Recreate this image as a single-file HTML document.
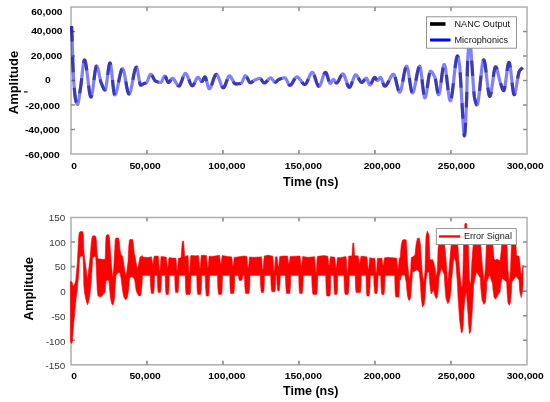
<!DOCTYPE html>
<html><head><meta charset="utf-8"><title>NANC Output vs Microphonics</title>
<style>html,body{margin:0;padding:0;background:#fff;width:550px;height:402px;overflow:hidden}svg{display:block}</style>
</head><body>
<svg width="550" height="402" viewBox="0 0 550 402">
<rect width="550" height="402" fill="#fff"/>
<rect x="71" y="7" width="456" height="147" fill="none" stroke="#aeaeae" stroke-width="1.5"/><path d="M147,154 V150 M147,7 V11 M223,154 V150 M223,7 V11 M299,154 V150 M299,7 V11 M375,154 V150 M375,7 V11 M451,154 V150 M451,7 V11 M71,31.50 H75 M527,31.50 H523 M71,56.00 H75 M527,56.00 H523 M71,80.50 H75 M527,80.50 H523 M71,105.00 H75 M527,105.00 H523 M71,129.50 H75 M527,129.50 H523" stroke="#8c8c8c" stroke-width="1.6" fill="none"/>
<path d="M71.60,26.00 L71.80,30.44 L72.00,34.87 L72.20,40.00 L72.24,41.45 M72.65,56.92 L72.80,62.00 L73.04,67.91 L73.25,72.38 M74.22,87.75 L74.25,88.09 L74.50,90.97 L74.75,93.57 L75.00,95.81 L75.25,97.65 L75.50,99.00 L75.75,100.07 L76.00,101.09 L76.25,102.02 L76.40,102.51 M79.75,93.19 L79.75,93.16 L80.00,91.35 L80.25,89.61 L80.50,88.00 L80.75,86.34 L81.00,84.45 L81.25,82.38 L81.50,80.18 L81.72,78.20 M83.52,63.13 L83.75,61.88 L84.00,60.87 L84.25,60.22 L84.50,60.00 L84.75,60.16 L85.00,60.62 L85.25,61.36 L85.50,62.36 L85.75,63.58 L86.00,65.00 L86.25,66.60 L86.50,68.35 L86.75,70.23 L86.77,70.41 M88.59,85.48 L88.75,86.77 L89.00,88.65 L89.25,90.40 L89.50,92.00 L89.75,93.42 L90.00,94.64 L90.25,95.64 L90.50,96.38 L90.75,96.84 L91.00,97.00 L91.24,96.83 L91.49,96.34 L91.73,95.56 L91.85,95.05 M93.96,80.15 L94.17,78.48 L94.41,76.53 L94.65,74.64 L94.90,72.87 L95.14,71.23 L95.38,69.76 L95.63,68.49 L95.87,67.44 L96.11,66.66 L96.36,66.17 L96.60,66.00 L96.64,66.02 M100.27,79.35 L100.31,79.54 L100.56,80.57 L100.81,81.50 L101.05,82.32 L101.30,83.00 L101.55,83.62 L101.79,84.25 L102.04,84.89 L102.29,85.53 L102.53,86.16 L102.78,86.77 L103.03,87.36 L103.27,87.90 L103.52,88.41 L103.77,88.86 L104.01,89.25 L104.26,89.56 L104.51,89.80 L104.75,89.95 L105.00,90.00 L105.25,89.80 L105.36,89.57 M107.70,74.88 L107.75,74.48 L108.00,72.50 L108.25,70.61 L108.50,68.83 L108.75,67.22 L109.00,65.81 L109.25,64.64 L109.50,63.76 L109.75,63.20 L110.00,63.00 L110.24,63.23 L110.48,63.90 L110.72,64.93 M112.50,80.00 L112.64,81.39 L112.88,83.74 L113.12,85.98 L113.36,88.09 L113.60,90.00 L113.84,91.67 L114.08,93.06 L114.32,94.10 L114.56,94.77 L114.60,94.80 M118.54,82.44 L118.77,81.21 L119.02,79.95 L119.27,78.70 L119.52,77.47 L119.77,76.28 L120.02,75.14 L120.26,74.06 L120.51,73.05 L120.76,72.12 L121.01,71.27 L121.26,70.53 L121.51,69.90 L121.75,69.39 L122.00,69.01 L122.11,68.91 M125.76,81.43 L126.00,82.81 L126.25,84.25 L126.50,85.65 L126.75,87.00 L127.00,88.29 L127.25,89.49 L127.50,90.58 L127.75,91.55 L128.00,92.39 L128.25,93.07 L128.50,93.57 L128.75,93.89 L129.00,94.00 L129.25,93.91 L129.46,93.69 M132.83,79.90 L132.95,79.26 L133.19,77.94 L133.44,76.63 L133.69,75.37 L133.93,74.15 L134.18,72.99 L134.43,71.90 L134.67,70.90 L134.92,69.99 L135.17,69.19 L135.41,68.50 L135.66,67.95 L135.91,67.54 L136.15,67.29 L136.40,67.20 L136.64,67.36 L136.64,67.37 M139.48,81.68 L139.51,81.80 L139.74,82.93 L139.98,83.87 L140.22,84.58 L140.46,85.04 L140.70,85.20 L140.93,85.18 L141.17,85.13 L141.40,85.04 L141.63,84.93 L141.87,84.81 L142.10,84.66 L142.33,84.51 L142.57,84.36 L142.80,84.20 L143.03,84.05 L143.27,83.92 L143.50,83.80 L143.75,83.69 L144.00,83.59 L144.25,83.50 L144.50,83.41 L144.75,83.32 L145.00,83.23 L145.25,83.14 L145.50,83.04 L145.75,82.93 L146.00,82.80 L146.08,82.75 M151.91,75.25 L152.14,75.60 L152.38,76.00 L152.62,76.44 L152.86,76.89 L153.10,77.36 L153.34,77.84 L153.58,78.31 L153.82,78.77 L154.06,79.21 L154.30,79.63 L154.54,80.01 L154.78,80.34 L155.02,80.62 L155.26,80.85 L155.50,81.00 L155.75,81.12 L156.00,81.23 L156.24,81.35 L156.49,81.46 L156.74,81.56 L156.99,81.66 L157.23,81.76 L157.48,81.85 L157.73,81.94 L157.98,82.02 L158.22,82.10 L158.47,82.17 L158.55,82.19 M165.06,76.19 L165.29,76.41 L165.54,76.77 L165.79,77.22 L166.03,77.76 L166.28,78.35 L166.53,78.98 L166.77,79.62 L167.02,80.25 L167.27,80.84 L167.51,81.38 L167.76,81.83 L168.01,82.19 L168.25,82.42 L168.50,82.50 L168.75,82.45 L169.00,82.32 L169.25,82.12 L169.50,81.86 L169.75,81.55 L170.00,81.20 L170.25,80.83 L170.50,80.45 L170.75,80.07 L171.00,79.70 L171.06,79.62 M177.55,85.13 L177.67,85.26 L177.92,85.52 L178.16,85.72 L178.41,85.87 L178.65,85.97 L178.90,86.00 L179.15,85.95 L179.40,85.79 L179.65,85.54 L179.90,85.20 L180.15,84.78 L180.40,84.30 L180.65,83.75 L180.90,83.16 L181.15,82.52 L181.40,81.84 L181.65,81.14 L181.90,80.43 L182.15,79.70 L182.40,78.97 L182.65,78.26 L182.90,77.56 L183.11,77.00 M188.86,79.50 L188.90,79.60 L189.15,80.26 L189.40,80.92 L189.65,81.56 L189.90,82.18 L190.15,82.78 L190.40,83.34 L190.65,83.86 L190.90,84.34 L191.15,84.75 L191.40,85.11 L191.65,85.40 L191.90,85.62 L192.15,85.75 L192.40,85.80 L192.65,85.75 L192.90,85.60 L193.15,85.37 L193.40,85.07 L193.65,84.70 L193.90,84.27 L194.15,83.79 L194.40,83.28 L194.65,82.73 L194.70,82.61 M200.94,80.81 L201.15,81.03 L201.40,81.23 L201.65,81.36 L201.90,81.40 L202.15,81.31 L202.40,81.07 L202.65,80.70 L202.90,80.23 L203.15,79.71 L203.40,79.15 L203.65,78.59 L203.90,78.07 L204.15,77.60 L204.40,77.23 L204.65,76.99 L204.90,76.90 L205.14,77.01 L205.39,77.31 L205.63,77.78 L205.88,78.40 L206.12,79.14 L206.37,79.99 L206.61,80.90 L206.69,81.20 M211.59,85.18 L211.80,84.60 L212.05,83.88 L212.30,83.13 L212.55,82.37 L212.80,81.60 L213.05,80.83 L213.30,80.07 L213.55,79.32 L213.80,78.60 L214.05,77.91 L214.30,77.25 L214.55,76.65 L214.80,76.10 L215.05,75.61 L215.30,75.20 L215.55,74.86 L215.80,74.61 L216.05,74.45 L216.30,74.40 L216.55,74.45 L216.71,74.54 M221.75,86.11 L221.80,86.22 L222.05,86.67 L222.30,87.06 L222.55,87.37 L222.80,87.60 L223.05,87.75 L223.30,87.80 L223.55,87.74 L223.80,87.58 L224.04,87.33 L224.29,86.98 L224.54,86.56 L224.79,86.07 L225.04,85.52 L225.28,84.92 L225.53,84.28 L225.78,83.61 L226.03,82.92 L226.28,82.21 L226.52,81.49 L226.77,80.78 L227.02,80.09 L227.27,79.42 L227.28,79.38 M233.33,81.51 L233.50,81.83 L233.75,82.26 L234.00,82.65 L234.25,83.00 L234.50,83.31 L234.75,83.56 L235.00,83.74 L235.25,83.86 L235.50,83.90 L235.75,83.90 L235.99,83.90 L236.24,83.89 L236.48,83.89 L236.73,83.88 L236.97,83.87 L237.22,83.86 L237.46,83.85 L237.71,83.83 L237.95,83.82 L238.20,83.80 L238.45,83.78 L238.69,83.76 L238.94,83.74 L239.18,83.71 L239.43,83.69 L239.67,83.66 L239.92,83.63 L240.16,83.60 L240.41,83.57 L240.65,83.54 L240.71,83.53 M246.70,76.87 L246.90,77.21 L247.15,77.67 L247.40,78.16 L247.65,78.68 L247.90,79.20 L248.15,79.72 L248.40,80.24 L248.65,80.73 L248.90,81.19 L249.15,81.61 L249.40,81.97 L249.65,82.27 L249.90,82.50 L250.15,82.65 L250.40,82.70 L250.64,82.68 L250.89,82.63 L251.13,82.54 L251.38,82.42 L251.62,82.29 L251.86,82.13 L252.11,81.96 L252.35,81.77 L252.59,81.58 L252.84,81.39 L253.08,81.20 L253.22,81.09 M260.77,78.94 L260.80,78.97 L261.05,79.25 L261.30,79.57 L261.55,79.91 L261.80,80.28 L262.05,80.65 L262.30,81.02 L262.55,81.39 L262.80,81.73 L263.05,82.05 L263.30,82.33 L263.55,82.57 L263.80,82.75 L264.05,82.86 L264.30,82.90 L264.55,82.88 L264.79,82.82 L265.04,82.72 L265.28,82.58 L265.53,82.42 L265.78,82.22 L266.02,82.01 L266.27,81.77 L266.52,81.52 L266.76,81.25 L267.01,80.97 L267.25,80.69 L267.50,80.40 L267.65,80.23 M274.58,82.03 L274.61,82.05 L274.86,82.16 L275.10,82.20 L275.34,82.17 L275.59,82.10 L275.83,81.98 L276.08,81.83 L276.32,81.65 L276.56,81.45 L276.81,81.22 L277.05,80.99 L277.29,80.75 L277.54,80.51 L277.78,80.27 L278.02,80.05 L278.27,79.85 L278.51,79.67 L278.76,79.51 L279.00,79.40 L279.25,79.30 L279.49,79.21 L279.74,79.12 L279.98,79.02 L280.23,78.93 L280.48,78.84 L280.72,78.76 L280.97,78.67 L281.21,78.59 L281.46,78.51 L281.70,78.44 L281.95,78.36 L282.00,78.35 M288.55,83.97 L288.65,84.14 L288.90,84.53 L289.15,84.85 L289.40,85.09 L289.65,85.25 L289.90,85.30 L290.15,85.27 L290.40,85.18 L290.65,85.03 L290.90,84.83 L291.15,84.59 L291.40,84.31 L291.65,83.99 L291.90,83.63 L292.15,83.25 L292.40,82.85 L292.65,82.43 L292.90,81.99 L293.15,81.55 L293.40,81.10 L293.65,80.65 L293.90,80.21 L294.15,79.77 L294.40,79.35 L294.65,78.95 L294.90,78.57 L294.97,78.47 M301.83,82.01 L301.84,82.03 L302.08,82.35 L302.33,82.66 L302.58,82.95 L302.82,83.23 L303.07,83.48 L303.32,83.71 L303.57,83.91 L303.81,84.08 L304.06,84.21 L304.31,84.32 L304.55,84.38 L304.80,84.40 L305.05,84.36 L305.30,84.25 L305.55,84.06 L305.80,83.82 L306.05,83.51 L306.30,83.15 L306.55,82.74 L306.80,82.30 L307.05,81.81 L307.30,81.29 L307.55,80.74 L307.80,80.18 L308.05,79.59 L308.27,79.06 M314.17,75.13 L314.26,75.34 L314.50,76.00 L314.74,76.71 L314.99,77.44 L315.23,78.20 L315.48,78.96 L315.72,79.74 L315.97,80.50 L316.21,81.26 L316.46,81.99 L316.70,82.70 L316.94,83.36 L317.19,83.98 L317.43,84.55 L317.68,85.05 L317.92,85.48 L318.17,85.82 L318.41,86.08 L318.66,86.24 L318.90,86.30 L319.14,86.24 L319.16,86.24 M323.96,74.32 L324.03,74.15 L324.28,73.65 L324.52,73.22 L324.77,72.88 L325.01,72.62 L325.26,72.46 L325.50,72.40 L325.75,72.48 L325.99,72.71 L326.24,73.07 L326.48,73.54 L326.73,74.12 L326.97,74.78 L327.21,75.50 L327.46,76.27 L327.70,77.08 L327.95,77.90 L328.19,78.72 L328.44,79.53 L328.69,80.30 L328.93,81.02 L329.08,81.41 M335.35,81.90 L335.40,81.99 L335.65,82.35 L335.90,82.64 L336.15,82.83 L336.40,82.90 L336.65,82.86 L336.90,82.75 L337.15,82.57 L337.40,82.33 L337.65,82.03 L337.90,81.68 L338.15,81.29 L338.40,80.87 L338.65,80.41 L338.90,79.93 L339.15,79.43 L339.40,78.92 L339.65,78.40 L339.90,77.88 L340.15,77.37 L340.40,76.87 L340.65,76.39 L340.90,75.93 L341.15,75.51 L341.40,75.12 L341.49,74.99 M346.89,83.02 L347.08,83.59 L347.33,84.27 L347.58,84.91 L347.82,85.49 L348.07,86.00 L348.32,86.45 L348.56,86.81 L348.81,87.07 L349.05,87.24 L349.30,87.30 L349.55,87.25 L349.80,87.09 L350.05,86.84 L350.30,86.51 L350.55,86.10 L350.80,85.62 L351.05,85.09 L351.30,84.50 L351.55,83.87 L351.80,83.21 L352.05,82.52 L352.30,81.81 L352.43,81.43 M358.28,77.76 L358.50,78.18 L358.75,78.65 L359.00,79.12 L359.24,79.58 L359.49,80.03 L359.73,80.46 L359.98,80.86 L360.23,81.23 L360.47,81.56 L360.72,81.84 L360.96,82.08 L361.21,82.25 L361.45,82.36 L361.70,82.40 L361.95,82.37 L362.19,82.27 L362.44,82.12 L362.69,81.92 L362.94,81.68 L363.18,81.41 L363.43,81.11 L363.68,80.79 L363.93,80.47 L364.17,80.13 L364.42,79.81 L364.67,79.49 L364.82,79.31 M370.84,84.05 L371.05,83.73 L371.30,83.28 L371.55,82.79 L371.80,82.26 L372.05,81.71 L372.30,81.15 L372.55,80.59 L372.80,80.04 L373.05,79.51 L373.30,79.02 L373.55,78.57 L373.80,78.18 L374.05,77.86 L374.30,77.61 L374.55,77.45 L374.80,77.40 L375.05,77.49 L375.30,77.72 L375.55,78.07 L375.80,78.49 L376.05,78.95 L376.30,79.41 L376.55,79.83 L376.80,80.18 L376.81,80.19 M382.90,82.62 L383.09,83.18 L383.33,83.84 L383.58,84.46 L383.82,85.00 L384.07,85.46 L384.31,85.80 L384.56,86.02 L384.80,86.10 L385.05,86.07 L385.30,85.99 L385.55,85.85 L385.79,85.67 L386.04,85.45 L386.29,85.18 L386.54,84.87 L386.79,84.53 L387.04,84.16 L387.29,83.76 L387.53,83.34 L387.78,82.89 L388.03,82.43 L388.28,81.95 L388.53,81.46 L388.78,80.96 L388.95,80.61 M395.00,76.96 L395.24,77.74 L395.48,78.65 L395.73,79.62 L395.98,80.64 L396.23,81.69 L396.48,82.76 L396.72,83.84 L396.97,84.91 L397.22,85.96 L397.47,86.98 L397.72,87.95 L397.96,88.86 L398.21,89.69 L398.46,90.43 L398.57,90.70 M402.73,81.63 L402.90,80.65 L403.15,79.25 L403.40,77.85 L403.64,76.47 L403.89,75.12 L404.14,73.81 L404.38,72.56 L404.63,71.37 L404.88,70.28 L405.12,69.28 L405.37,68.40 L405.61,67.65 L405.72,67.38 M409.32,77.98 L409.55,79.55 L409.80,81.21 L410.04,82.86 L410.29,84.45 L410.53,85.98 L410.78,87.41 L411.02,88.73 L411.27,89.91 L411.52,90.92 L411.76,91.75 L412.01,92.37 L412.03,92.41 M415.90,80.65 L415.98,80.24 L416.22,78.86 L416.47,77.49 L416.72,76.13 L416.97,74.81 L417.22,73.53 L417.47,72.32 L417.71,71.17 L417.96,70.12 L418.21,69.16 L418.46,68.31 L418.71,67.58 L418.96,67.00 L419.13,66.68 M422.01,79.38 L422.18,80.92 L422.42,83.18 L422.67,85.42 L422.92,87.60 L423.17,89.68 L423.41,91.62 L423.66,93.36 L423.84,94.44 M427.22,87.93 L427.33,87.15 L427.58,85.42 L427.82,83.68 L428.07,81.95 L428.31,80.27 L428.55,78.64 L428.80,77.11 L429.04,75.70 L429.28,74.44 L429.53,73.34 L429.57,73.18 M435.32,78.79 L435.39,79.06 L435.64,80.25 L435.89,81.62 L436.13,83.12 L436.38,84.70 L436.63,86.31 L436.87,87.92 L437.12,89.46 L437.37,90.89 L437.61,92.17 L437.86,93.25 L437.90,93.39 M441.04,82.59 L441.28,80.64 L441.52,78.66 L441.77,76.70 L442.01,74.79 L442.25,72.95 L442.50,71.21 L442.74,69.61 L442.98,68.17 L443.08,67.65 M446.35,74.84 L446.40,75.23 L446.64,77.28 L446.88,79.40 L447.13,81.56 L447.37,83.74 L447.62,85.90 L447.86,88.02 L448.09,89.95 M451.35,98.19 L451.54,97.26 L451.79,95.84 L452.04,94.23 L452.29,92.45 L452.53,90.53 L452.78,88.49 L453.03,86.35 L453.28,84.14 L453.38,83.25 M455.04,68.11 L455.27,66.27 L455.51,64.35 L455.76,62.57 L456.01,60.96 L456.26,59.54 L456.51,58.32 L456.76,57.34 L457.00,56.61 L457.25,56.16 L457.50,56.00 L457.74,56.18 L457.98,56.68 L458.21,57.44 M460.15,72.37 L460.36,75.59 L460.60,79.62 L460.84,83.85 L461.06,87.77 M462.00,103.15 L462.04,103.64 L462.27,107.67 L462.51,111.92 L462.75,116.26 L462.87,118.55 M463.96,133.89 L464.16,135.25 L464.40,135.80 L464.64,135.15 L464.89,133.31 L465.13,130.43 L465.38,126.66 L465.59,122.77 M466.29,107.33 L466.36,105.86 L466.60,100.00 L466.84,91.87 M467.19,76.39 L467.35,69.37 L467.60,62.00 L467.66,60.92 M468.66,45.55 L468.82,43.61 L469.07,41.25 L469.31,39.49 L469.56,38.38 L469.80,38.00 L470.03,38.64 L470.25,40.39 L470.48,43.00 L470.63,45.21 M471.64,60.57 L471.85,63.27 L472.10,66.81 L472.35,70.53 L472.60,74.34 L472.70,75.93 M473.80,91.27 L473.85,91.85 L474.10,94.44 L474.35,96.52 L474.60,98.00 L474.84,99.10 L475.08,100.15 L475.32,101.15 L475.56,102.07 L475.80,102.89 L476.04,103.60 L476.28,104.19 L476.52,104.63 L476.76,104.90 L476.91,104.96 M479.49,90.87 L479.73,88.61 L479.98,86.15 L480.23,83.65 L480.47,81.15 L480.72,78.65 L480.97,76.19 L481.02,75.68 M483.12,60.80 L483.20,60.51 L483.45,59.98 L483.70,59.80 L483.94,59.97 L484.19,60.47 L484.43,61.25 L484.68,62.31 L484.92,63.61 L485.16,65.11 L485.41,66.80 L485.65,68.64 L485.90,70.61 L486.12,72.50 M487.86,87.61 L488.09,89.40 L488.34,91.09 L488.58,92.59 L488.82,93.89 L489.07,94.95 L489.31,95.73 L489.56,96.23 L489.80,96.40 L490.04,96.25 L490.28,95.82 L490.53,95.13 L490.77,94.21 L491.01,93.08 L491.24,91.81 M493.33,76.88 L493.43,76.17 L493.67,74.47 L493.91,72.89 L494.15,71.42 L494.39,70.12 L494.63,68.99 L494.88,68.07 L495.12,67.38 L495.36,66.95 L495.60,66.80 L495.85,66.89 L496.09,67.16 L496.34,67.58 L496.59,68.14 L496.84,68.83 L497.06,69.54 M500.58,83.31 L500.79,83.93 L501.03,84.70 L501.27,85.47 L501.51,86.24 L501.76,87.00 L502.00,87.72 L502.24,88.40 L502.49,89.01 L502.73,89.54 L502.97,89.98 L503.21,90.32 L503.46,90.53 L503.70,90.60 L503.94,90.43 L504.18,89.94 L504.42,89.17 L504.66,88.14 L504.90,86.89 L505.08,85.87 M507.07,70.90 L507.07,70.87 L507.31,69.15 L507.55,67.55 L507.80,66.11 L508.04,64.86 L508.28,63.83 L508.52,63.06 L508.76,62.57 L509.00,62.40 L509.25,62.61 L509.50,63.22 L509.74,64.19 L509.99,65.47 L510.24,67.02 L510.31,67.50 M512.04,82.61 L512.22,84.21 L512.47,86.33 L512.71,88.30 L512.96,90.08 L513.21,91.63 L513.46,92.91 L513.70,93.88 L513.95,94.49 L514.20,94.70 L514.45,94.56 L514.70,94.17 L514.94,93.54 L515.06,93.16 M517.65,78.58 L517.67,78.46 L517.91,77.00 L518.16,75.63 L518.41,74.39 L518.66,73.29 L518.90,72.35 L519.15,71.62 L519.40,71.10 L519.65,70.72 L519.90,70.37 L520.15,70.06 L520.40,69.77 L520.65,69.51 L520.90,69.27 L521.15,69.05 L521.40,68.83 L521.65,68.62 L521.90,68.41 L522.15,68.20 L522.40,67.98 L522.58,67.82" fill="none" stroke="#000" stroke-opacity="0.55" stroke-width="3.2" stroke-linejoin="round"/>
<path d="M71.60,26.00 L71.80,30.44 L72.00,34.87 L72.20,40.00 L72.40,47.08 L72.60,55.25 L72.80,62.00 L73.04,67.91 L73.28,73.14 L73.52,77.71 L73.76,81.66 L74.00,85.00 L74.25,88.09 L74.50,90.97 L74.75,93.57 L75.00,95.81 L75.25,97.65 L75.50,99.00 L75.75,100.07 L76.00,101.09 L76.25,102.02 L76.50,102.84 L76.75,103.53 L77.00,104.05 L77.25,104.38 L77.50,104.50 L77.75,104.29 L78.00,103.70 L78.25,102.78 L78.50,101.58 L78.75,100.15 L79.00,98.55 L79.25,96.81 L79.50,95.00 L79.75,93.16 L80.00,91.35 L80.25,89.61 L80.50,88.00 L80.75,86.34 L81.00,84.45 L81.25,82.38 L81.50,80.18 L81.75,77.89 L82.00,75.55 L82.25,73.22 L82.50,70.94 L82.75,68.75 L83.00,66.71 L83.25,64.85 L83.50,63.23 L83.75,61.88 L84.00,60.87 L84.25,60.22 L84.50,60.00 L84.75,60.16 L85.00,60.62 L85.25,61.36 L85.50,62.36 L85.75,63.58 L86.00,65.00 L86.25,66.60 L86.50,68.35 L86.75,70.23 L87.00,72.21 L87.25,74.26 L87.50,76.37 L87.75,78.50 L88.00,80.63 L88.25,82.74 L88.50,84.79 L88.75,86.77 L89.00,88.65 L89.25,90.40 L89.50,92.00 L89.75,93.42 L90.00,94.64 L90.25,95.64 L90.50,96.38 L90.75,96.84 L91.00,97.00 L91.24,96.83 L91.49,96.34 L91.73,95.56 L91.97,94.51 L92.22,93.24 L92.46,91.77 L92.70,90.13 L92.95,88.36 L93.19,86.47 L93.43,84.52 L93.68,82.51 L93.92,80.49 L94.17,78.48 L94.41,76.53 L94.65,74.64 L94.90,72.87 L95.14,71.23 L95.38,69.76 L95.63,68.49 L95.87,67.44 L96.11,66.66 L96.36,66.17 L96.60,66.00 L96.85,66.11 L97.09,66.41 L97.34,66.90 L97.59,67.54 L97.84,68.32 L98.08,69.23 L98.33,70.23 L98.58,71.32 L98.83,72.47 L99.07,73.66 L99.32,74.87 L99.57,76.08 L99.82,77.28 L100.06,78.44 L100.31,79.54 L100.56,80.57 L100.81,81.50 L101.05,82.32 L101.30,83.00 L101.55,83.62 L101.79,84.25 L102.04,84.89 L102.29,85.53 L102.53,86.16 L102.78,86.77 L103.03,87.36 L103.27,87.90 L103.52,88.41 L103.77,88.86 L104.01,89.25 L104.26,89.56 L104.51,89.80 L104.75,89.95 L105.00,90.00 L105.25,89.80 L105.50,89.24 L105.75,88.36 L106.00,87.19 L106.25,85.78 L106.50,84.17 L106.75,82.39 L107.00,80.50 L107.25,78.52 L107.50,76.50 L107.75,74.48 L108.00,72.50 L108.25,70.61 L108.50,68.83 L108.75,67.22 L109.00,65.81 L109.25,64.64 L109.50,63.76 L109.75,63.20 L110.00,63.00 L110.24,63.23 L110.48,63.90 L110.72,64.94 L110.96,66.33 L111.20,68.00 L111.44,69.91 L111.68,72.02 L111.92,74.26 L112.16,76.61 L112.40,79.00 L112.64,81.39 L112.88,83.74 L113.12,85.98 L113.36,88.09 L113.60,90.00 L113.84,91.67 L114.08,93.06 L114.32,94.10 L114.56,94.77 L114.80,95.00 L115.05,94.92 L115.30,94.69 L115.55,94.31 L115.79,93.80 L116.04,93.17 L116.29,92.43 L116.54,91.58 L116.79,90.65 L117.04,89.64 L117.28,88.56 L117.53,87.42 L117.78,86.23 L118.03,85.00 L118.28,83.75 L118.53,82.49 L118.77,81.21 L119.02,79.95 L119.27,78.70 L119.52,77.47 L119.77,76.28 L120.02,75.14 L120.26,74.06 L120.51,73.05 L120.76,72.12 L121.01,71.27 L121.26,70.53 L121.51,69.90 L121.75,69.39 L122.00,69.01 L122.25,68.78 L122.50,68.70 L122.75,68.81 L123.00,69.13 L123.25,69.63 L123.50,70.31 L123.75,71.15 L124.00,72.12 L124.25,73.21 L124.50,74.41 L124.75,75.70 L125.00,77.05 L125.25,78.45 L125.50,79.89 L125.75,81.35 L126.00,82.81 L126.25,84.25 L126.50,85.65 L126.75,87.00 L127.00,88.29 L127.25,89.49 L127.50,90.58 L127.75,91.55 L128.00,92.39 L128.25,93.07 L128.50,93.57 L128.75,93.89 L129.00,94.00 L129.25,93.91 L129.49,93.66 L129.74,93.25 L129.99,92.70 L130.23,92.01 L130.48,91.21 L130.73,90.30 L130.97,89.30 L131.22,88.21 L131.47,87.05 L131.71,85.83 L131.96,84.57 L132.21,83.26 L132.45,81.94 L132.70,80.60 L132.95,79.26 L133.19,77.94 L133.44,76.63 L133.69,75.37 L133.93,74.15 L134.18,72.99 L134.43,71.90 L134.67,70.90 L134.92,69.99 L135.17,69.19 L135.41,68.50 L135.66,67.95 L135.91,67.54 L136.15,67.29 L136.40,67.20 L136.64,67.36 L136.88,67.82 L137.12,68.53 L137.36,69.47 L137.59,70.60 L137.83,71.87 L138.07,73.25 L138.31,74.71 L138.55,76.20 L138.79,77.69 L139.03,79.15 L139.27,80.53 L139.51,81.80 L139.74,82.93 L139.98,83.87 L140.22,84.58 L140.46,85.04 L140.70,85.20 L140.93,85.18 L141.17,85.13 L141.40,85.04 L141.63,84.93 L141.87,84.81 L142.10,84.66 L142.33,84.51 L142.57,84.36 L142.80,84.20 L143.03,84.05 L143.27,83.92 L143.50,83.80 L143.75,83.69 L144.00,83.59 L144.25,83.50 L144.50,83.41 L144.75,83.32 L145.00,83.23 L145.25,83.14 L145.50,83.04 L145.75,82.93 L146.00,82.80 L146.25,82.66 L146.50,82.50 L146.75,82.27 L146.99,81.92 L147.24,81.48 L147.49,80.96 L147.74,80.37 L147.98,79.73 L148.23,79.06 L148.48,78.38 L148.72,77.70 L148.97,77.04 L149.22,76.41 L149.46,75.84 L149.71,75.33 L149.96,74.90 L150.21,74.58 L150.45,74.37 L150.70,74.30 L150.94,74.34 L151.18,74.47 L151.42,74.66 L151.66,74.92 L151.90,75.24 L152.14,75.60 L152.38,76.00 L152.62,76.44 L152.86,76.89 L153.10,77.36 L153.34,77.84 L153.58,78.31 L153.82,78.77 L154.06,79.21 L154.30,79.63 L154.54,80.01 L154.78,80.34 L155.02,80.62 L155.26,80.85 L155.50,81.00 L155.75,81.12 L156.00,81.23 L156.24,81.35 L156.49,81.46 L156.74,81.56 L156.99,81.66 L157.23,81.76 L157.48,81.85 L157.73,81.94 L157.98,82.02 L158.22,82.10 L158.47,82.17 L158.72,82.24 L158.97,82.30 L159.21,82.35 L159.46,82.39 L159.71,82.43 L159.96,82.46 L160.20,82.48 L160.45,82.50 L160.70,82.50 L160.94,82.44 L161.18,82.26 L161.42,81.97 L161.66,81.60 L161.91,81.16 L162.15,80.67 L162.39,80.14 L162.63,79.58 L162.87,79.02 L163.11,78.46 L163.35,77.93 L163.59,77.44 L163.84,77.00 L164.08,76.63 L164.32,76.34 L164.56,76.16 L164.80,76.10 L165.05,76.18 L165.29,76.41 L165.54,76.77 L165.79,77.22 L166.03,77.76 L166.28,78.35 L166.53,78.98 L166.77,79.62 L167.02,80.25 L167.27,80.84 L167.51,81.38 L167.76,81.83 L168.01,82.19 L168.25,82.42 L168.50,82.50 L168.75,82.45 L169.00,82.32 L169.25,82.12 L169.50,81.86 L169.75,81.55 L170.00,81.20 L170.25,80.83 L170.50,80.45 L170.75,80.07 L171.00,79.70 L171.25,79.35 L171.50,79.04 L171.75,78.78 L172.00,78.58 L172.25,78.45 L172.50,78.40 L172.75,78.43 L172.99,78.53 L173.24,78.68 L173.48,78.88 L173.73,79.14 L173.98,79.43 L174.22,79.76 L174.47,80.12 L174.72,80.50 L174.96,80.91 L175.21,81.33 L175.45,81.76 L175.70,82.20 L175.95,82.64 L176.19,83.07 L176.44,83.49 L176.68,83.90 L176.93,84.28 L177.18,84.64 L177.42,84.97 L177.67,85.26 L177.92,85.52 L178.16,85.72 L178.41,85.87 L178.65,85.97 L178.90,86.00 L179.15,85.95 L179.40,85.79 L179.65,85.54 L179.90,85.20 L180.15,84.78 L180.40,84.30 L180.65,83.75 L180.90,83.16 L181.15,82.52 L181.40,81.84 L181.65,81.14 L181.90,80.43 L182.15,79.70 L182.40,78.97 L182.65,78.26 L182.90,77.56 L183.15,76.88 L183.40,76.24 L183.65,75.65 L183.90,75.10 L184.15,74.62 L184.40,74.20 L184.65,73.86 L184.90,73.61 L185.15,73.45 L185.40,73.40 L185.65,73.45 L185.90,73.58 L186.15,73.80 L186.40,74.09 L186.65,74.45 L186.90,74.86 L187.15,75.34 L187.40,75.86 L187.65,76.42 L187.90,77.02 L188.15,77.64 L188.40,78.28 L188.65,78.94 L188.90,79.60 L189.15,80.26 L189.40,80.92 L189.65,81.56 L189.90,82.18 L190.15,82.78 L190.40,83.34 L190.65,83.86 L190.90,84.34 L191.15,84.75 L191.40,85.11 L191.65,85.40 L191.90,85.62 L192.15,85.75 L192.40,85.80 L192.65,85.75 L192.90,85.60 L193.15,85.37 L193.40,85.07 L193.65,84.70 L193.90,84.27 L194.15,83.79 L194.40,83.28 L194.65,82.73 L194.90,82.17 L195.15,81.60 L195.40,81.03 L195.65,80.47 L195.90,79.92 L196.15,79.41 L196.40,78.93 L196.65,78.50 L196.90,78.13 L197.15,77.83 L197.40,77.60 L197.65,77.45 L197.90,77.40 L198.15,77.44 L198.40,77.57 L198.65,77.77 L198.90,78.03 L199.15,78.33 L199.40,78.67 L199.65,79.03 L199.90,79.40 L200.15,79.77 L200.40,80.13 L200.65,80.47 L200.90,80.78 L201.15,81.03 L201.40,81.23 L201.65,81.36 L201.90,81.40 L202.15,81.31 L202.40,81.07 L202.65,80.70 L202.90,80.23 L203.15,79.71 L203.40,79.15 L203.65,78.59 L203.90,78.07 L204.15,77.60 L204.40,77.23 L204.65,76.99 L204.90,76.90 L205.14,77.01 L205.39,77.31 L205.63,77.78 L205.88,78.40 L206.12,79.14 L206.37,79.99 L206.61,80.90 L206.86,81.86 L207.10,82.85 L207.34,83.84 L207.59,84.80 L207.83,85.71 L208.08,86.56 L208.32,87.30 L208.57,87.92 L208.81,88.39 L209.06,88.69 L209.30,88.80 L209.55,88.75 L209.80,88.59 L210.05,88.34 L210.30,88.00 L210.55,87.59 L210.80,87.10 L211.05,86.55 L211.30,85.95 L211.55,85.29 L211.80,84.60 L212.05,83.88 L212.30,83.13 L212.55,82.37 L212.80,81.60 L213.05,80.83 L213.30,80.07 L213.55,79.32 L213.80,78.60 L214.05,77.91 L214.30,77.25 L214.55,76.65 L214.80,76.10 L215.05,75.61 L215.30,75.20 L215.55,74.86 L215.80,74.61 L216.05,74.45 L216.30,74.40 L216.55,74.45 L216.80,74.60 L217.05,74.83 L217.30,75.14 L217.55,75.53 L217.80,75.98 L218.05,76.49 L218.30,77.06 L218.55,77.66 L218.80,78.31 L219.05,78.98 L219.30,79.67 L219.55,80.38 L219.80,81.10 L220.05,81.82 L220.30,82.53 L220.55,83.22 L220.80,83.89 L221.05,84.54 L221.30,85.14 L221.55,85.71 L221.80,86.22 L222.05,86.67 L222.30,87.06 L222.55,87.37 L222.80,87.60 L223.05,87.75 L223.30,87.80 L223.55,87.74 L223.80,87.58 L224.04,87.33 L224.29,86.98 L224.54,86.56 L224.79,86.07 L225.04,85.52 L225.28,84.92 L225.53,84.28 L225.78,83.61 L226.03,82.92 L226.28,82.21 L226.52,81.49 L226.77,80.78 L227.02,80.09 L227.27,79.42 L227.52,78.78 L227.76,78.18 L228.01,77.63 L228.26,77.14 L228.51,76.72 L228.76,76.37 L229.00,76.12 L229.25,75.96 L229.50,75.90 L229.75,75.94 L230.00,76.06 L230.25,76.24 L230.50,76.49 L230.75,76.80 L231.00,77.15 L231.25,77.54 L231.50,77.97 L231.75,78.43 L232.00,78.91 L232.25,79.40 L232.50,79.90 L232.75,80.40 L233.00,80.89 L233.25,81.37 L233.50,81.83 L233.75,82.26 L234.00,82.65 L234.25,83.00 L234.50,83.31 L234.75,83.56 L235.00,83.74 L235.25,83.86 L235.50,83.90 L235.75,83.90 L235.99,83.90 L236.24,83.89 L236.48,83.89 L236.73,83.88 L236.97,83.87 L237.22,83.86 L237.46,83.85 L237.71,83.83 L237.95,83.82 L238.20,83.80 L238.45,83.78 L238.69,83.76 L238.94,83.74 L239.18,83.71 L239.43,83.69 L239.67,83.66 L239.92,83.63 L240.16,83.60 L240.41,83.57 L240.65,83.54 L240.90,83.50 L241.15,83.40 L241.40,83.17 L241.65,82.85 L241.90,82.43 L242.15,81.93 L242.40,81.38 L242.65,80.78 L242.90,80.16 L243.15,79.52 L243.40,78.88 L243.65,78.26 L243.90,77.67 L244.15,77.13 L244.40,76.66 L244.65,76.26 L244.90,75.96 L245.15,75.77 L245.40,75.70 L245.65,75.75 L245.90,75.90 L246.15,76.13 L246.40,76.43 L246.65,76.79 L246.90,77.21 L247.15,77.67 L247.40,78.16 L247.65,78.68 L247.90,79.20 L248.15,79.72 L248.40,80.24 L248.65,80.73 L248.90,81.19 L249.15,81.61 L249.40,81.97 L249.65,82.27 L249.90,82.50 L250.15,82.65 L250.40,82.70 L250.64,82.68 L250.89,82.63 L251.13,82.54 L251.38,82.42 L251.62,82.29 L251.86,82.13 L252.11,81.96 L252.35,81.77 L252.59,81.58 L252.84,81.39 L253.08,81.20 L253.33,81.01 L253.57,80.83 L253.81,80.67 L254.06,80.52 L254.30,80.40 L254.55,80.28 L254.80,80.16 L255.05,80.04 L255.30,79.92 L255.55,79.80 L255.80,79.67 L256.05,79.55 L256.30,79.43 L256.55,79.31 L256.80,79.20 L257.05,79.09 L257.30,78.98 L257.55,78.88 L257.80,78.79 L258.05,78.71 L258.30,78.63 L258.55,78.56 L258.80,78.51 L259.05,78.46 L259.30,78.43 L259.55,78.41 L259.80,78.40 L260.05,78.44 L260.30,78.55 L260.55,78.73 L260.80,78.97 L261.05,79.25 L261.30,79.57 L261.55,79.91 L261.80,80.28 L262.05,80.65 L262.30,81.02 L262.55,81.39 L262.80,81.73 L263.05,82.05 L263.30,82.33 L263.55,82.57 L263.80,82.75 L264.05,82.86 L264.30,82.90 L264.55,82.88 L264.79,82.82 L265.04,82.72 L265.28,82.58 L265.53,82.42 L265.78,82.22 L266.02,82.01 L266.27,81.77 L266.52,81.52 L266.76,81.25 L267.01,80.97 L267.25,80.69 L267.50,80.40 L267.75,80.11 L267.99,79.83 L268.24,79.55 L268.48,79.28 L268.73,79.03 L268.98,78.79 L269.22,78.58 L269.47,78.38 L269.72,78.22 L269.96,78.08 L270.21,77.98 L270.45,77.92 L270.70,77.90 L270.94,77.94 L271.19,78.05 L271.43,78.22 L271.68,78.44 L271.92,78.71 L272.17,79.01 L272.41,79.35 L272.66,79.69 L272.90,80.05 L273.14,80.41 L273.39,80.75 L273.63,81.09 L273.88,81.39 L274.12,81.66 L274.37,81.88 L274.61,82.05 L274.86,82.16 L275.10,82.20 L275.34,82.17 L275.59,82.10 L275.83,81.98 L276.08,81.83 L276.32,81.65 L276.56,81.45 L276.81,81.22 L277.05,80.99 L277.29,80.75 L277.54,80.51 L277.78,80.27 L278.02,80.05 L278.27,79.85 L278.51,79.67 L278.76,79.51 L279.00,79.40 L279.25,79.30 L279.49,79.21 L279.74,79.12 L279.98,79.02 L280.23,78.93 L280.48,78.84 L280.72,78.76 L280.97,78.67 L281.21,78.59 L281.46,78.51 L281.70,78.44 L281.95,78.36 L282.20,78.30 L282.44,78.23 L282.69,78.17 L282.93,78.12 L283.18,78.07 L283.42,78.03 L283.67,77.99 L283.92,77.96 L284.16,77.93 L284.41,77.91 L284.65,77.90 L284.90,77.90 L285.15,77.95 L285.40,78.11 L285.65,78.35 L285.90,78.67 L286.15,79.06 L286.40,79.50 L286.65,79.98 L286.90,80.50 L287.15,81.05 L287.40,81.60 L287.65,82.15 L287.90,82.70 L288.15,83.22 L288.40,83.70 L288.65,84.14 L288.90,84.53 L289.15,84.85 L289.40,85.09 L289.65,85.25 L289.90,85.30 L290.15,85.27 L290.40,85.18 L290.65,85.03 L290.90,84.83 L291.15,84.59 L291.40,84.31 L291.65,83.99 L291.90,83.63 L292.15,83.25 L292.40,82.85 L292.65,82.43 L292.90,81.99 L293.15,81.55 L293.40,81.10 L293.65,80.65 L293.90,80.21 L294.15,79.77 L294.40,79.35 L294.65,78.95 L294.90,78.57 L295.15,78.21 L295.40,77.89 L295.65,77.61 L295.90,77.37 L296.15,77.17 L296.40,77.02 L296.65,76.93 L296.90,76.90 L297.15,76.92 L297.39,76.98 L297.64,77.09 L297.89,77.22 L298.13,77.39 L298.38,77.59 L298.63,77.82 L298.88,78.07 L299.12,78.35 L299.37,78.64 L299.62,78.95 L299.86,79.27 L300.11,79.61 L300.36,79.95 L300.60,80.30 L300.85,80.65 L301.10,81.00 L301.34,81.35 L301.59,81.69 L301.84,82.03 L302.08,82.35 L302.33,82.66 L302.58,82.95 L302.82,83.23 L303.07,83.48 L303.32,83.71 L303.57,83.91 L303.81,84.08 L304.06,84.21 L304.31,84.32 L304.55,84.38 L304.80,84.40 L305.05,84.36 L305.30,84.25 L305.55,84.06 L305.80,83.82 L306.05,83.51 L306.30,83.15 L306.55,82.74 L306.80,82.30 L307.05,81.81 L307.30,81.29 L307.55,80.74 L307.80,80.18 L308.05,79.59 L308.30,79.00 L308.55,78.40 L308.80,77.80 L309.05,77.21 L309.30,76.62 L309.55,76.06 L309.80,75.51 L310.05,74.99 L310.30,74.50 L310.55,74.06 L310.80,73.65 L311.05,73.29 L311.30,72.98 L311.55,72.74 L311.80,72.55 L312.05,72.44 L312.30,72.40 L312.54,72.46 L312.79,72.62 L313.03,72.88 L313.28,73.22 L313.52,73.65 L313.77,74.15 L314.01,74.72 L314.26,75.34 L314.50,76.00 L314.74,76.71 L314.99,77.44 L315.23,78.20 L315.48,78.96 L315.72,79.74 L315.97,80.50 L316.21,81.26 L316.46,81.99 L316.70,82.70 L316.94,83.36 L317.19,83.98 L317.43,84.55 L317.68,85.05 L317.92,85.48 L318.17,85.82 L318.41,86.08 L318.66,86.24 L318.90,86.30 L319.14,86.24 L319.39,86.08 L319.63,85.82 L319.88,85.48 L320.12,85.05 L320.37,84.55 L320.61,83.98 L320.86,83.36 L321.10,82.70 L321.34,81.99 L321.59,81.26 L321.83,80.50 L322.08,79.74 L322.32,78.96 L322.57,78.20 L322.81,77.44 L323.06,76.71 L323.30,76.00 L323.54,75.34 L323.79,74.72 L324.03,74.15 L324.28,73.65 L324.52,73.22 L324.77,72.88 L325.01,72.62 L325.26,72.46 L325.50,72.40 L325.75,72.48 L325.99,72.71 L326.24,73.07 L326.48,73.54 L326.73,74.12 L326.97,74.78 L327.21,75.50 L327.46,76.27 L327.70,77.08 L327.95,77.90 L328.19,78.72 L328.44,79.53 L328.69,80.30 L328.93,81.02 L329.17,81.68 L329.42,82.26 L329.66,82.73 L329.91,83.09 L330.15,83.32 L330.40,83.40 L330.65,83.32 L330.90,83.10 L331.15,82.78 L331.40,82.36 L331.65,81.90 L331.90,81.40 L332.15,80.90 L332.40,80.44 L332.65,80.03 L332.90,79.70 L333.15,79.48 L333.40,79.40 L333.65,79.47 L333.90,79.66 L334.15,79.95 L334.40,80.31 L334.65,80.72 L334.90,81.15 L335.15,81.58 L335.40,81.99 L335.65,82.35 L335.90,82.64 L336.15,82.83 L336.40,82.90 L336.65,82.86 L336.90,82.75 L337.15,82.57 L337.40,82.33 L337.65,82.03 L337.90,81.68 L338.15,81.29 L338.40,80.87 L338.65,80.41 L338.90,79.93 L339.15,79.43 L339.40,78.92 L339.65,78.40 L339.90,77.88 L340.15,77.37 L340.40,76.87 L340.65,76.39 L340.90,75.93 L341.15,75.51 L341.40,75.12 L341.65,74.77 L341.90,74.47 L342.15,74.23 L342.40,74.05 L342.65,73.94 L342.90,73.90 L343.15,73.96 L343.39,74.13 L343.64,74.39 L343.88,74.75 L344.13,75.20 L344.38,75.71 L344.62,76.29 L344.87,76.93 L345.12,77.61 L345.36,78.32 L345.61,79.07 L345.85,79.83 L346.10,80.60 L346.35,81.37 L346.59,82.13 L346.84,82.88 L347.08,83.59 L347.33,84.27 L347.58,84.91 L347.82,85.49 L348.07,86.00 L348.32,86.45 L348.56,86.81 L348.81,87.07 L349.05,87.24 L349.30,87.30 L349.55,87.25 L349.80,87.09 L350.05,86.84 L350.30,86.51 L350.55,86.10 L350.80,85.62 L351.05,85.09 L351.30,84.50 L351.55,83.87 L351.80,83.21 L352.05,82.52 L352.30,81.81 L352.55,81.10 L352.80,80.39 L353.05,79.68 L353.30,78.99 L353.55,78.33 L353.80,77.70 L354.05,77.11 L354.30,76.58 L354.55,76.10 L354.80,75.69 L355.05,75.36 L355.30,75.11 L355.55,74.95 L355.80,74.90 L356.05,74.94 L356.29,75.05 L356.54,75.22 L356.78,75.46 L357.03,75.74 L357.27,76.07 L357.52,76.44 L357.77,76.84 L358.01,77.27 L358.26,77.72 L358.50,78.18 L358.75,78.65 L359.00,79.12 L359.24,79.58 L359.49,80.03 L359.73,80.46 L359.98,80.86 L360.23,81.23 L360.47,81.56 L360.72,81.84 L360.96,82.08 L361.21,82.25 L361.45,82.36 L361.70,82.40 L361.95,82.37 L362.19,82.27 L362.44,82.12 L362.69,81.92 L362.94,81.68 L363.18,81.41 L363.43,81.11 L363.68,80.79 L363.93,80.47 L364.17,80.13 L364.42,79.81 L364.67,79.49 L364.92,79.19 L365.16,78.92 L365.41,78.68 L365.66,78.48 L365.91,78.33 L366.15,78.23 L366.40,78.20 L366.64,78.30 L366.89,78.57 L367.13,78.99 L367.37,79.53 L367.61,80.15 L367.86,80.84 L368.10,81.55 L368.34,82.26 L368.59,82.95 L368.83,83.57 L369.07,84.11 L369.31,84.53 L369.56,84.80 L369.80,84.90 L370.05,84.85 L370.30,84.69 L370.55,84.44 L370.80,84.12 L371.05,83.73 L371.30,83.28 L371.55,82.79 L371.80,82.26 L372.05,81.71 L372.30,81.15 L372.55,80.59 L372.80,80.04 L373.05,79.51 L373.30,79.02 L373.55,78.57 L373.80,78.18 L374.05,77.86 L374.30,77.61 L374.55,77.45 L374.80,77.40 L375.05,77.49 L375.30,77.72 L375.55,78.07 L375.80,78.49 L376.05,78.95 L376.30,79.41 L376.55,79.83 L376.80,80.18 L377.05,80.41 L377.30,80.50 L377.54,80.45 L377.78,80.30 L378.02,80.08 L378.25,79.80 L378.49,79.48 L378.73,79.13 L378.97,78.77 L379.21,78.42 L379.45,78.10 L379.68,77.82 L379.92,77.60 L380.16,77.45 L380.40,77.40 L380.64,77.48 L380.89,77.70 L381.13,78.04 L381.38,78.50 L381.62,79.04 L381.87,79.66 L382.11,80.32 L382.36,81.03 L382.60,81.75 L382.84,82.47 L383.09,83.18 L383.33,83.84 L383.58,84.46 L383.82,85.00 L384.07,85.46 L384.31,85.80 L384.56,86.02 L384.80,86.10 L385.05,86.07 L385.30,85.99 L385.55,85.85 L385.79,85.67 L386.04,85.45 L386.29,85.18 L386.54,84.87 L386.79,84.53 L387.04,84.16 L387.29,83.76 L387.53,83.34 L387.78,82.89 L388.03,82.43 L388.28,81.95 L388.53,81.46 L388.78,80.96 L389.03,80.45 L389.27,79.95 L389.52,79.44 L389.77,78.94 L390.02,78.45 L390.27,77.97 L390.52,77.51 L390.77,77.06 L391.01,76.64 L391.26,76.24 L391.51,75.87 L391.76,75.53 L392.01,75.22 L392.26,74.95 L392.51,74.73 L392.75,74.55 L393.00,74.41 L393.25,74.33 L393.50,74.30 L393.75,74.38 L394.00,74.63 L394.24,75.02 L394.49,75.53 L394.74,76.17 L394.99,76.91 L395.24,77.74 L395.48,78.65 L395.73,79.62 L395.98,80.64 L396.23,81.69 L396.48,82.76 L396.72,83.84 L396.97,84.91 L397.22,85.96 L397.47,86.98 L397.72,87.95 L397.96,88.86 L398.21,89.69 L398.46,90.43 L398.71,91.07 L398.96,91.58 L399.20,91.97 L399.45,92.22 L399.70,92.30 L399.95,92.20 L400.19,91.92 L400.44,91.47 L400.69,90.85 L400.93,90.10 L401.18,89.22 L401.43,88.22 L401.67,87.13 L401.92,85.94 L402.16,84.69 L402.41,83.38 L402.66,82.03 L402.90,80.65 L403.15,79.25 L403.40,77.85 L403.64,76.47 L403.89,75.12 L404.14,73.81 L404.38,72.56 L404.63,71.37 L404.88,70.28 L405.12,69.28 L405.37,68.40 L405.61,67.65 L405.86,67.03 L406.11,66.58 L406.35,66.30 L406.60,66.20 L406.85,66.34 L407.09,66.73 L407.34,67.35 L407.58,68.18 L407.83,69.19 L408.08,70.37 L408.32,71.69 L408.57,73.12 L408.81,74.65 L409.06,76.24 L409.30,77.89 L409.55,79.55 L409.80,81.21 L410.04,82.86 L410.29,84.45 L410.53,85.98 L410.78,87.41 L411.02,88.73 L411.27,89.91 L411.52,90.92 L411.76,91.75 L412.01,92.37 L412.25,92.76 L412.50,92.90 L412.75,92.81 L413.00,92.54 L413.24,92.10 L413.49,91.52 L413.74,90.79 L413.99,89.94 L414.24,88.98 L414.49,87.93 L414.73,86.78 L414.98,85.57 L415.23,84.29 L415.48,82.97 L415.73,81.61 L415.98,80.24 L416.22,78.86 L416.47,77.49 L416.72,76.13 L416.97,74.81 L417.22,73.53 L417.47,72.32 L417.71,71.17 L417.96,70.12 L418.21,69.16 L418.46,68.31 L418.71,67.58 L418.96,67.00 L419.20,66.56 L419.45,66.29 L419.70,66.20 L419.95,66.41 L420.20,67.01 L420.44,67.96 L420.69,69.21 L420.94,70.74 L421.19,72.48 L421.43,74.42 L421.68,76.50 L421.93,78.68 L422.18,80.92 L422.42,83.18 L422.67,85.42 L422.92,87.60 L423.17,89.68 L423.41,91.62 L423.66,93.36 L423.91,94.89 L424.16,96.14 L424.40,97.09 L424.65,97.69 L424.90,97.90 L425.14,97.75 L425.39,97.33 L425.63,96.66 L425.87,95.76 L426.12,94.66 L426.36,93.40 L426.60,91.99 L426.85,90.46 L427.09,88.83 L427.33,87.15 L427.58,85.42 L427.82,83.68 L428.07,81.95 L428.31,80.27 L428.55,78.64 L428.80,77.11 L429.04,75.70 L429.28,74.44 L429.53,73.34 L429.77,72.44 L430.01,71.77 L430.26,71.35 L430.50,71.20 L430.74,71.23 L430.99,71.31 L431.23,71.43 L431.48,71.61 L431.72,71.83 L431.97,72.09 L432.21,72.39 L432.46,72.72 L432.70,73.09 L432.94,73.49 L433.19,73.91 L433.43,74.36 L433.68,74.83 L433.92,75.31 L434.17,75.82 L434.41,76.34 L434.66,76.86 L434.90,77.40 L435.15,78.09 L435.39,79.06 L435.64,80.25 L435.89,81.62 L436.13,83.12 L436.38,84.70 L436.63,86.31 L436.87,87.92 L437.12,89.46 L437.37,90.89 L437.61,92.17 L437.86,93.25 L438.11,94.08 L438.35,94.61 L438.60,94.80 L438.84,94.63 L439.09,94.15 L439.33,93.39 L439.57,92.37 L439.82,91.13 L440.06,89.69 L440.30,88.09 L440.55,86.35 L440.79,84.51 L441.03,82.60 L441.28,80.64 L441.52,78.66 L441.77,76.70 L442.01,74.79 L442.25,72.95 L442.50,71.21 L442.74,69.61 L442.98,68.17 L443.23,66.93 L443.47,65.91 L443.71,65.15 L443.96,64.67 L444.20,64.50 L444.44,64.67 L444.69,65.16 L444.93,65.94 L445.18,66.99 L445.42,68.28 L445.66,69.77 L445.91,71.44 L446.15,73.27 L446.40,75.23 L446.64,77.28 L446.88,79.40 L447.13,81.56 L447.37,83.74 L447.62,85.90 L447.86,88.02 L448.10,90.07 L448.35,92.03 L448.59,93.86 L448.84,95.53 L449.08,97.02 L449.32,98.31 L449.57,99.36 L449.81,100.14 L450.06,100.63 L450.30,100.80 L450.55,100.64 L450.80,100.19 L451.04,99.46 L451.29,98.48 L451.54,97.26 L451.79,95.84 L452.04,94.23 L452.29,92.45 L452.53,90.53 L452.78,88.49 L453.03,86.35 L453.28,84.14 L453.53,81.86 L453.78,79.56 L454.02,77.24 L454.27,74.94 L454.52,72.66 L454.77,70.45 L455.02,68.31 L455.27,66.27 L455.51,64.35 L455.76,62.57 L456.01,60.96 L456.26,59.54 L456.51,58.32 L456.76,57.34 L457.00,56.61 L457.25,56.16 L457.50,56.00 L457.74,56.18 L457.98,56.68 L458.21,57.46 L458.45,58.47 L458.69,59.68 L458.92,61.03 L459.16,62.49 L459.40,64.00 L459.64,65.95 L459.88,68.62 L460.12,71.87 L460.36,75.59 L460.60,79.62 L460.84,83.85 L461.08,88.13 L461.32,92.34 L461.56,96.34 L461.80,100.00 L462.04,103.64 L462.27,107.67 L462.51,111.92 L462.75,116.26 L462.98,120.52 L463.22,124.54 L463.45,128.18 L463.69,131.28 L463.93,133.69 L464.16,135.25 L464.40,135.80 L464.64,135.15 L464.89,133.31 L465.13,130.43 L465.38,126.66 L465.62,122.17 L465.87,117.10 L466.11,111.61 L466.36,105.86 L466.60,100.00 L466.85,91.54 L467.10,80.28 L467.35,69.37 L467.60,62.00 L467.84,57.66 L468.09,53.58 L468.33,49.84 L468.58,46.50 L468.82,43.61 L469.07,41.25 L469.31,39.49 L469.56,38.38 L469.80,38.00 L470.03,38.64 L470.25,40.39 L470.48,43.00 L470.70,46.21 L470.93,49.76 L471.15,53.42 L471.38,56.91 L471.60,60.00 L471.85,63.27 L472.10,66.81 L472.35,70.53 L472.60,74.34 L472.85,78.17 L473.10,81.92 L473.35,85.51 L473.60,88.85 L473.85,91.85 L474.10,94.44 L474.35,96.52 L474.60,98.00 L474.84,99.10 L475.08,100.15 L475.32,101.15 L475.56,102.07 L475.80,102.89 L476.04,103.60 L476.28,104.19 L476.52,104.63 L476.76,104.90 L477.00,105.00 L477.25,104.82 L477.50,104.29 L477.74,103.45 L477.99,102.32 L478.24,100.92 L478.49,99.30 L478.74,97.46 L478.99,95.45 L479.23,93.28 L479.48,90.99 L479.73,88.61 L479.98,86.15 L480.23,83.65 L480.47,81.15 L480.72,78.65 L480.97,76.19 L481.22,73.81 L481.47,71.52 L481.71,69.35 L481.96,67.34 L482.21,65.50 L482.46,63.88 L482.71,62.48 L482.96,61.35 L483.20,60.51 L483.45,59.98 L483.70,59.80 L483.94,59.97 L484.19,60.47 L484.43,61.25 L484.68,62.31 L484.92,63.61 L485.16,65.11 L485.41,66.80 L485.65,68.64 L485.90,70.61 L486.14,72.68 L486.38,74.82 L486.63,77.00 L486.87,79.20 L487.12,81.38 L487.36,83.52 L487.60,85.59 L487.85,87.56 L488.09,89.40 L488.34,91.09 L488.58,92.59 L488.82,93.89 L489.07,94.95 L489.31,95.73 L489.56,96.23 L489.80,96.40 L490.04,96.25 L490.28,95.82 L490.53,95.13 L490.77,94.21 L491.01,93.08 L491.25,91.78 L491.49,90.31 L491.73,88.73 L491.98,87.03 L492.22,85.27 L492.46,83.45 L492.70,81.60 L492.94,79.75 L493.18,77.93 L493.43,76.17 L493.67,74.47 L493.91,72.89 L494.15,71.42 L494.39,70.12 L494.63,68.99 L494.88,68.07 L495.12,67.38 L495.36,66.95 L495.60,66.80 L495.85,66.89 L496.09,67.16 L496.34,67.58 L496.59,68.14 L496.84,68.83 L497.08,69.62 L497.33,70.51 L497.58,71.48 L497.83,72.50 L498.07,73.57 L498.32,74.67 L498.57,75.77 L498.82,76.88 L499.06,77.96 L499.31,79.01 L499.56,80.00 L499.81,80.92 L500.05,81.76 L500.30,82.50 L500.54,83.20 L500.79,83.93 L501.03,84.70 L501.27,85.47 L501.51,86.24 L501.76,87.00 L502.00,87.72 L502.24,88.40 L502.49,89.01 L502.73,89.54 L502.97,89.98 L503.21,90.32 L503.46,90.53 L503.70,90.60 L503.94,90.43 L504.18,89.94 L504.42,89.17 L504.66,88.14 L504.90,86.89 L505.15,85.45 L505.39,83.85 L505.63,82.13 L505.87,80.30 L506.11,78.42 L506.35,76.50 L506.59,74.58 L506.83,72.70 L507.07,70.87 L507.31,69.15 L507.55,67.55 L507.80,66.11 L508.04,64.86 L508.28,63.83 L508.52,63.06 L508.76,62.57 L509.00,62.40 L509.25,62.61 L509.50,63.22 L509.74,64.19 L509.99,65.47 L510.24,67.02 L510.49,68.80 L510.73,70.77 L510.98,72.89 L511.23,75.11 L511.48,77.40 L511.72,79.70 L511.97,81.99 L512.22,84.21 L512.47,86.33 L512.71,88.30 L512.96,90.08 L513.21,91.63 L513.46,92.91 L513.70,93.88 L513.95,94.49 L514.20,94.70 L514.45,94.56 L514.70,94.17 L514.94,93.54 L515.19,92.70 L515.44,91.69 L515.69,90.51 L515.93,89.20 L516.18,87.79 L516.43,86.29 L516.68,84.74 L516.92,83.15 L517.17,81.56 L517.42,79.99 L517.67,78.46 L517.91,77.00 L518.16,75.63 L518.41,74.39 L518.66,73.29 L518.90,72.35 L519.15,71.62 L519.40,71.10 L519.65,70.72 L519.90,70.37 L520.15,70.06 L520.40,69.77 L520.65,69.51 L520.90,69.27 L521.15,69.05 L521.40,68.83 L521.65,68.62 L521.90,68.41 L522.15,68.20 L522.40,67.98 L522.65,67.75 L522.90,67.50" fill="none" stroke="#0000ff" stroke-opacity="0.5" stroke-width="3.2" stroke-linejoin="round"/>
<rect x="426.5" y="16.8" width="90" height="31.4" fill="#fff" stroke="#8a8a8a" stroke-width="0.9"/>
<rect x="430" y="22.2" width="15.5" height="3.6" fill="#000"/>
<rect x="430" y="38.5" width="20.5" height="3" fill="#0000ff"/>
<text x="454.5" y="26.9" font-size="9.1" font-family="Liberation Sans, Arial, sans-serif" fill="#111">NANC Output</text>
<text x="454.5" y="42.7" font-size="9.1" font-family="Liberation Sans, Arial, sans-serif" fill="#111">Microphonics</text>
<text transform="translate(62.6,14.7) scale(1.04,0.97)" text-anchor="end" font-size="9.9" font-family="Liberation Sans, Arial, sans-serif" font-weight="bold">60,000</text>
<text transform="translate(62.6,34) scale(1.04,0.97)" text-anchor="end" font-size="9.9" font-family="Liberation Sans, Arial, sans-serif" font-weight="bold">40,000</text>
<text transform="translate(62.3,59.3) scale(1.04,0.97)" text-anchor="end" font-size="9.9" font-family="Liberation Sans, Arial, sans-serif" font-weight="bold">20,000</text>
<text transform="translate(50.6,82.7) scale(1.04,0.97)" text-anchor="end" font-size="9.9" font-family="Liberation Sans, Arial, sans-serif" font-weight="bold">0</text>
<text transform="translate(60,108.6) scale(1.04,0.97)" text-anchor="end" font-size="9.9" font-family="Liberation Sans, Arial, sans-serif" font-weight="bold">-20,000</text>
<text transform="translate(59.8,133.4) scale(1.04,0.97)" text-anchor="end" font-size="9.9" font-family="Liberation Sans, Arial, sans-serif" font-weight="bold">-40,000</text>
<text transform="translate(59.8,158.3) scale(1.04,0.97)" text-anchor="end" font-size="9.9" font-family="Liberation Sans, Arial, sans-serif" font-weight="bold">-60,000</text>
<text transform="translate(74.2,169.2) scale(1.04,0.97)" text-anchor="middle" font-size="9.9" font-family="Liberation Sans, Arial, sans-serif" font-weight="bold">0</text><text transform="translate(145.1,169.2) scale(1.04,0.97)" text-anchor="middle" font-size="9.9" font-family="Liberation Sans, Arial, sans-serif" font-weight="bold">50,000</text><text transform="translate(226.8,169.2) scale(1.04,0.97)" text-anchor="middle" font-size="9.9" font-family="Liberation Sans, Arial, sans-serif" font-weight="bold">100,000</text><text transform="translate(303.4,169.2) scale(1.04,0.97)" text-anchor="middle" font-size="9.9" font-family="Liberation Sans, Arial, sans-serif" font-weight="bold">150,000</text><text transform="translate(382.2,169.2) scale(1.04,0.97)" text-anchor="middle" font-size="9.9" font-family="Liberation Sans, Arial, sans-serif" font-weight="bold">200,000</text><text transform="translate(456.4,169.2) scale(1.04,0.97)" text-anchor="middle" font-size="9.9" font-family="Liberation Sans, Arial, sans-serif" font-weight="bold">250,000</text><text transform="translate(525.2,169.2) scale(1.04,0.97)" text-anchor="middle" font-size="9.9" font-family="Liberation Sans, Arial, sans-serif" font-weight="bold">300,000</text>
<text x="310.7" y="185.5" text-anchor="middle" font-size="12.5" font-family="Liberation Sans, Arial, sans-serif" font-weight="bold">Time (ns)</text>
<text transform="translate(18.1,82.5) rotate(-90)" text-anchor="middle" font-size="12.95" font-family="Liberation Sans, Arial, sans-serif" font-weight="bold">Amplitude</text>
<rect x="24" y="91.2" width="3.7" height="1.4" fill="#333"/>
<rect x="71" y="217.5" width="456" height="147.3" fill="none" stroke="#aeaeae" stroke-width="1.5"/><path d="M147,364.8 V360.8 M147,217.5 V221.5 M223,364.8 V360.8 M223,217.5 V221.5 M299,364.8 V360.8 M299,217.5 V221.5 M375,364.8 V360.8 M375,217.5 V221.5 M451,364.8 V360.8 M451,217.5 V221.5 M71,242.05 H75 M527,242.05 H523 M71,266.60 H75 M527,266.60 H523 M71,291.15 H75 M527,291.15 H523 M71,315.70 H75 M527,315.70 H523 M71,340.25 H75 M527,340.25 H523" stroke="#8c8c8c" stroke-width="1.6" fill="none"/>
<polygon points="70.40,282.00 70.60,281.50 71.50,281.50 72.40,283.00 73.20,287.00 74.10,285.00 75.00,283.00 75.80,280.00 76.20,275.00 77.30,263.00 78.10,248.00 78.50,240.00 79.00,234.00 79.60,232.00 80.70,231.50 83.00,231.70 83.50,236.00 83.80,250.00 84.60,258.00 85.80,266.00 87.40,280.00 88.60,270.00 89.60,262.00 90.40,255.00 91.20,244.00 92.00,237.50 92.60,236.00 94.90,235.70 95.80,236.50 96.50,242.00 97.20,255.00 98.00,259.00 101.00,259.00 103.50,259.50 105.20,259.00 105.60,245.00 106.00,236.00 107.50,234.50 109.00,235.00 109.70,240.00 110.50,252.00 111.50,265.00 112.70,278.00 113.60,270.00 114.50,255.00 115.20,240.00 116.00,238.00 118.50,238.00 119.40,242.00 120.00,250.00 121.00,254.50 122.50,256.00 123.50,262.00 125.00,272.00 126.00,276.00 127.00,270.00 128.00,262.00 128.80,246.00 129.40,240.00 130.00,239.50 132.80,239.50 133.60,246.00 134.30,254.00 135.00,256.00 136.00,262.00 137.50,270.00 139.00,262.00 140.00,257.00 141.00,256.50 142.00,256.00 142.40,255.50 142.75,257.06 143.00,257.07 143.25,257.09 143.50,257.11 143.75,257.12 144.00,257.14 144.25,257.16 144.50,257.17 144.75,257.19 145.00,257.21 145.25,257.22 145.50,257.24 145.75,257.26 146.00,257.27 146.25,257.29 146.50,257.31 146.75,257.32 147.00,257.34 147.25,257.36 147.50,257.37 147.75,257.39 148.00,257.41 148.25,257.36 148.50,257.32 148.75,257.27 149.00,257.23 149.25,257.19 149.50,257.14 149.75,257.10 150.00,257.05 150.25,257.01 150.50,256.96 150.75,256.92 151.00,256.88 151.25,256.83 151.50,256.79 151.75,258.50 152.00,260.23 152.25,261.99 152.50,263.76 152.75,263.76 153.00,263.76 153.25,262.67 153.50,260.83 153.75,258.97 154.00,257.09 154.25,256.30 154.50,256.26 154.75,256.21 155.00,256.17 155.25,256.12 155.50,256.08 155.75,256.03 156.00,255.99 156.25,256.01 156.50,256.04 156.75,256.06 157.00,256.08 157.25,256.11 157.50,256.13 157.75,256.15 158.00,256.18 158.25,256.20 158.50,257.68 158.75,261.34 159.00,264.99 159.25,268.62 159.50,270.80 159.75,270.80 160.00,270.80 160.25,267.20 160.50,263.60 160.75,260.02 161.00,256.46 161.25,256.48 161.50,256.50 161.75,256.53 162.00,256.55 162.25,256.57 162.50,256.60 162.75,256.62 163.00,256.64 163.25,256.67 163.50,256.69 163.75,256.71 164.00,256.74 164.25,256.78 164.50,256.82 164.75,256.86 165.00,256.90 165.25,256.94 165.50,256.98 165.75,257.02 166.00,257.06 166.25,257.10 166.50,259.19 166.75,261.77 167.00,264.34 167.25,266.88 167.50,267.38 167.75,267.38 168.00,266.38 168.25,263.90 168.50,261.43 168.75,258.99 169.00,257.55 169.25,257.59 169.50,257.63 169.75,257.67 170.00,257.71 170.25,257.75 170.50,257.79 170.75,257.83 171.00,257.87 171.25,257.91 171.50,257.95 171.75,258.00 172.00,258.04 172.25,258.04 172.50,258.04 172.75,258.04 173.00,258.04 173.25,258.04 173.50,258.04 173.75,258.04 174.00,258.04 174.25,258.04 174.50,258.04 174.75,258.04 175.00,258.04 175.25,258.04 175.50,258.04 175.75,258.04 176.00,259.26 176.25,262.31 176.50,265.36 176.75,268.41 177.00,270.23 177.25,270.23 177.50,270.23 177.75,267.19 178.00,264.14 178.25,261.09 178.50,258.05 178.75,258.05 179.00,258.05 179.25,258.05 179.50,258.05 179.75,258.05 180.00,258.05 180.25,257.97 180.50,257.88 180.75,257.80 181.00,257.72 181.25,255.32 181.50,251.94 181.75,248.56 182.00,245.17 182.25,241.79 182.50,241.20 182.75,241.20 183.00,241.20 183.25,241.20 183.50,241.20 183.75,243.15 184.00,246.53 184.25,249.91 184.50,253.29 184.75,256.49 185.00,256.41 185.25,256.33 185.50,256.25 185.75,256.16 186.00,256.08 186.25,256.00 186.50,255.92 186.75,255.84 187.00,255.75 187.25,255.67 187.50,255.59 187.75,255.51 188.00,255.43 188.25,259.77 188.50,264.11 188.75,268.45 189.00,272.78 189.25,272.78 189.50,272.78 189.75,270.19 190.00,265.87 190.25,261.55 190.50,257.24 190.75,255.52 191.00,255.53 191.25,255.54 191.50,255.55 191.75,255.56 192.00,255.57 192.25,255.57 192.50,255.58 192.75,255.59 193.00,255.60 193.25,255.61 193.50,255.62 193.75,255.63 194.00,255.64 194.25,255.64 194.50,255.65 194.75,255.66 195.00,255.67 195.25,255.68 195.50,255.69 195.75,255.70 196.00,255.70 196.25,255.69 196.50,255.67 196.75,255.65 197.00,255.64 197.25,255.62 197.50,255.61 197.75,255.59 198.00,255.57 198.25,255.56 198.50,255.54 198.75,257.45 199.00,260.66 199.25,263.87 199.50,267.09 199.75,268.38 200.00,268.38 200.25,267.74 200.50,264.49 200.75,261.24 201.00,257.98 201.25,255.36 201.50,255.34 201.75,255.32 202.00,255.31 202.25,255.29 202.50,255.27 202.75,255.26 203.00,255.24 203.25,255.22 203.50,255.21 203.75,255.19 204.00,255.17 204.25,255.22 204.50,255.26 204.75,255.30 205.00,255.34 205.25,255.38 205.50,255.42 205.75,255.46 206.00,255.51 206.25,255.55 206.50,255.59 206.75,258.73 207.00,261.84 207.25,264.94 207.50,268.01 207.75,268.01 208.00,268.01 208.25,266.19 208.50,263.17 208.75,260.18 209.00,257.20 209.25,256.04 209.50,256.09 209.75,256.13 210.00,256.17 210.25,256.21 210.50,256.25 210.75,256.29 211.00,256.33 211.25,256.37 211.50,256.42 211.75,256.46 212.00,256.50 212.25,256.46 212.50,256.41 212.75,256.37 213.00,256.32 213.25,256.28 213.50,256.24 213.75,256.19 214.00,256.15 214.25,256.11 214.50,256.06 214.75,256.02 215.00,255.97 215.25,255.93 215.50,255.89 215.75,255.84 216.00,255.80 216.25,255.76 216.50,255.71 216.75,255.67 217.00,255.63 217.25,255.58 217.50,255.54 217.75,255.49 218.00,255.45 218.25,255.41 218.50,255.36 218.75,255.32 219.00,255.28 219.25,255.23 219.50,255.19 219.75,257.29 220.00,259.41 220.25,261.58 220.50,263.72 220.75,263.72 221.00,263.72 221.25,262.46 221.50,260.38 221.75,258.32 222.00,256.29 222.25,255.51 222.50,255.56 222.75,255.60 223.00,255.65 223.25,255.69 223.50,255.74 223.75,255.78 224.00,255.83 224.25,255.87 224.50,255.92 224.75,255.96 225.00,256.01 225.25,256.05 225.50,256.10 225.75,256.14 226.00,256.19 226.25,256.24 226.50,256.28 226.75,256.33 227.00,256.37 227.25,256.42 227.50,256.46 227.75,256.51 228.00,256.55 228.25,256.57 228.50,256.59 228.75,256.61 229.00,256.63 229.25,256.66 229.50,256.68 229.75,256.70 230.00,256.72 230.25,256.74 230.50,256.76 230.75,256.78 231.00,256.80 231.25,256.82 231.50,256.84 231.75,257.30 232.00,259.52 232.25,261.73 232.50,263.93 232.75,265.68 233.00,265.68 233.25,265.68 233.50,263.95 233.75,261.79 234.00,259.64 234.25,257.50 234.50,257.08 234.75,257.10 235.00,257.13 235.25,257.15 235.50,257.17 235.75,257.19 236.00,257.21 236.25,257.17 236.50,257.13 236.75,257.09 237.00,257.05 237.25,257.01 237.50,256.97 237.75,256.93 238.00,256.89 238.25,256.85 238.50,256.81 238.75,256.77 239.00,256.73 239.25,256.70 239.50,256.66 239.75,256.62 240.00,256.58 240.25,256.54 240.50,256.50 240.75,256.46 241.00,256.42 241.25,256.38 241.50,256.34 241.75,256.30 242.00,256.26 242.25,256.22 242.50,256.18 242.75,256.14 243.00,256.10 243.25,256.07 243.50,256.03 243.75,255.99 244.00,255.95 244.25,255.99 244.50,256.03 244.75,256.07 245.00,256.12 245.25,256.16 245.50,256.20 245.75,256.24 246.00,256.28 246.25,256.33 246.50,256.37 246.75,256.41 247.00,257.61 247.25,260.52 247.50,263.41 247.75,266.29 248.00,268.00 248.25,268.00 248.50,268.00 248.75,265.19 249.00,262.40 249.25,259.63 249.50,256.88 249.75,256.92 250.00,256.96 250.25,257.00 250.50,257.05 250.75,257.09 251.00,257.13 251.25,257.17 251.50,257.21 251.75,257.26 252.00,257.30 252.25,257.29 252.50,257.28 252.75,257.27 253.00,257.26 253.25,257.25 253.50,257.24 253.75,257.24 254.00,257.23 254.25,257.22 254.50,257.21 254.75,257.20 255.00,257.19 255.25,257.18 255.50,257.17 255.75,257.16 256.00,257.15 256.25,257.15 256.50,257.14 256.75,257.13 257.00,257.12 257.25,257.11 257.50,257.10 257.75,257.09 258.00,257.08 258.25,257.07 258.50,257.06 258.75,257.05 259.00,257.05 259.25,257.04 259.50,257.03 259.75,257.02 260.00,257.01 260.25,256.95 260.50,256.89 260.75,256.83 261.00,256.77 261.25,256.71 261.50,256.65 261.75,259.89 262.00,263.16 262.25,266.46 262.50,269.79 262.75,269.79 263.00,269.79 263.25,267.76 263.50,264.34 263.75,260.90 264.00,257.42 264.25,255.99 264.50,255.92 264.75,255.86 265.00,255.80 265.25,255.74 265.50,255.68 265.75,255.62 266.00,255.56 266.25,255.50 266.50,255.44 266.75,255.38 267.00,255.32 267.25,255.26 267.50,255.20 267.75,255.14 268.00,255.08 268.25,255.14 268.50,255.20 268.75,255.25 269.00,255.31 269.25,255.37 269.50,255.42 269.75,255.48 270.00,255.54 270.25,255.59 270.50,255.65 270.75,255.71 271.00,255.76 271.25,255.82 271.50,255.88 271.75,255.93 272.00,255.99 272.25,256.05 272.50,256.10 272.75,256.16 273.00,259.18 273.25,262.92 273.50,266.63 273.75,270.30 274.00,271.04 274.25,271.04 274.50,269.59 274.75,265.99 275.00,262.42 275.25,258.88 275.50,256.79 275.75,256.84 276.00,256.90 276.25,256.87 276.50,256.84 276.75,256.80 277.00,256.77 277.25,258.25 277.50,260.75 277.75,263.26 278.00,265.79 278.25,266.81 278.50,266.81 278.75,266.30 279.00,263.72 279.25,261.13 279.50,258.53 279.75,256.42 280.00,256.39 280.25,256.36 280.50,256.33 280.75,256.30 281.00,256.26 281.25,256.23 281.50,256.20 281.75,256.17 282.00,256.14 282.25,256.10 282.50,256.07 282.75,256.04 283.00,256.01 283.25,255.98 283.50,255.95 283.75,255.91 284.00,255.88 284.25,255.90 284.50,255.91 284.75,255.93 285.00,255.95 285.25,255.96 285.50,255.98 285.75,256.00 286.00,256.01 286.25,256.03 286.50,256.05 286.75,256.06 287.00,256.08 287.25,256.10 287.50,256.11 287.75,257.26 288.00,259.15 288.25,261.04 288.50,262.91 288.75,263.66 289.00,263.66 289.25,263.29 289.50,261.44 289.75,259.59 290.00,257.75 290.25,256.30 290.50,256.31 290.75,256.33 291.00,256.35 291.25,256.36 291.50,256.38 291.75,256.39 292.00,256.41 292.25,256.40 292.50,256.38 292.75,256.37 293.00,256.36 293.25,256.34 293.50,256.33 293.75,256.31 294.00,256.30 294.25,256.29 294.50,256.27 294.75,256.26 295.00,256.24 295.25,256.23 295.50,256.22 295.75,256.20 296.00,256.19 296.25,256.17 296.50,256.16 296.75,256.15 297.00,256.13 297.25,256.12 297.50,256.10 297.75,256.09 298.00,256.08 298.25,256.06 298.50,256.05 298.75,256.03 299.00,256.02 299.25,256.01 299.50,255.99 299.75,255.98 300.00,255.96 300.25,257.49 300.50,259.98 300.75,262.46 301.00,264.91 301.25,265.88 301.50,265.88 301.75,265.40 302.00,263.01 302.25,260.64 302.50,258.30 302.75,256.44 303.00,256.49 303.25,256.53 303.50,256.57 303.75,256.62 304.00,256.66 304.25,256.70 304.50,256.75 304.75,256.79 305.00,256.83 305.25,256.88 305.50,256.92 305.75,256.96 306.00,257.01 306.25,257.05 306.50,257.10 306.75,257.14 307.00,257.18 307.25,257.23 307.50,257.27 307.75,257.31 308.00,257.36 308.25,257.33 308.50,257.30 308.75,257.28 309.00,257.25 309.25,257.22 309.50,257.20 309.75,257.17 310.00,257.14 310.25,257.12 310.50,257.09 310.75,257.06 311.00,257.03 311.25,257.01 311.50,256.98 311.75,256.95 312.00,256.93 312.25,256.90 312.50,256.87 312.75,256.85 313.00,256.82 313.25,256.79 313.50,256.77 313.75,256.74 314.00,256.71 314.25,256.69 314.50,256.66 314.75,257.40 315.00,261.25 315.25,265.11 315.50,268.99 315.75,272.10 316.00,272.10 316.25,272.10 316.50,268.96 316.75,265.04 317.00,261.09 317.25,257.13 317.50,256.32 317.75,256.29 318.00,256.26 318.25,256.23 318.50,256.20 318.75,256.17 319.00,256.14 319.25,256.11 319.50,256.08 319.75,256.05 320.00,256.02 320.25,255.99 320.50,255.96 320.75,255.93 321.00,255.89 321.25,255.86 321.50,255.83 321.75,255.80 322.00,255.77 322.25,255.74 322.50,255.71 322.75,255.68 323.00,255.65 323.25,255.62 323.50,255.59 323.75,255.56 324.00,255.53 324.25,255.57 324.50,255.62 324.75,255.66 325.00,255.70 325.25,255.74 325.50,255.78 325.75,255.82 326.00,255.86 326.25,255.90 326.50,255.95 326.75,255.99 327.00,256.03 327.25,256.07 327.50,256.11 327.75,256.15 328.00,257.98 328.25,260.24 328.50,262.48 328.75,264.69 329.00,265.13 329.25,265.13 329.50,264.26 329.75,262.11 330.00,259.97 330.25,257.85 330.50,256.60 330.75,256.65 331.00,256.69 331.25,256.73 331.50,256.77 331.75,256.81 332.00,256.85 332.25,256.88 332.50,256.90 332.75,256.93 333.00,256.95 333.25,256.98 333.50,257.00 333.75,257.03 334.00,257.05 334.25,257.08 334.50,257.10 334.75,257.13 335.00,259.23 335.25,261.83 335.50,264.43 335.75,267.01 336.00,267.52 336.25,267.52 336.50,266.50 336.75,263.95 337.00,261.42 337.25,258.90 337.50,257.40 337.75,257.43 338.00,257.45 338.25,257.48 338.50,257.50 338.75,257.53 339.00,257.55 339.25,257.58 339.50,257.60 339.75,257.63 340.00,257.65 340.25,257.60 340.50,257.55 340.75,257.50 341.00,257.45 341.25,257.40 341.50,257.35 341.75,257.30 342.00,257.25 342.25,257.20 342.50,257.15 342.75,257.10 343.00,257.05 343.25,257.00 343.50,256.95 343.75,256.90 344.00,256.85 344.25,256.80 344.50,256.75 344.75,256.70 345.00,256.65 345.25,256.60 345.50,256.55 345.75,256.49 346.00,256.44 346.25,258.78 346.50,262.73 346.75,266.71 347.00,270.71 347.25,272.31 347.50,272.31 347.75,271.50 348.00,267.43 348.25,263.36 348.50,259.28 348.75,256.01 349.00,256.01 349.25,256.00 349.50,255.99 349.75,255.98 350.00,255.97 350.25,255.96 350.50,255.95 350.75,255.94 351.00,255.93 351.25,255.93 351.50,255.92 351.75,255.91 352.00,255.90 352.25,252.00 352.50,248.00 352.75,244.00 353.00,243.00 353.25,243.00 353.50,243.00 353.75,243.00 354.00,246.40 354.25,250.40 354.50,254.40 354.75,255.80 355.00,255.79 355.25,255.78 355.50,255.77 355.75,255.76 356.00,255.75 356.25,255.77 356.50,255.79 356.75,255.81 357.00,255.83 357.25,255.84 357.50,255.86 357.75,255.88 358.00,255.90 358.25,255.91 358.50,257.39 358.75,259.23 359.00,261.06 359.25,262.89 359.50,263.25 359.75,263.25 360.00,262.53 360.25,260.73 360.50,258.94 360.75,257.16 361.00,256.11 361.25,256.13 361.50,256.14 361.75,256.16 362.00,256.18 362.25,256.20 362.50,256.21 362.75,256.23 363.00,256.25 363.25,256.27 363.50,256.28 363.75,256.30 364.00,256.32 364.25,256.38 364.50,256.44 364.75,256.49 365.00,256.55 365.25,256.61 365.50,256.67 365.75,256.73 366.00,256.79 366.25,256.84 366.50,256.90 366.75,256.96 367.00,257.02 367.25,258.87 367.50,261.88 367.75,264.87 368.00,267.83 368.25,269.01 368.50,269.01 368.75,268.43 369.00,265.55 369.25,262.70 369.50,259.88 369.75,257.66 370.00,257.72 370.25,257.78 370.50,257.83 370.75,257.89 371.00,257.95 371.25,258.01 371.50,258.07 371.75,258.13 372.00,258.18 372.25,258.19 372.50,258.19 372.75,258.20 373.00,258.20 373.25,258.20 373.50,258.21 373.75,258.21 374.00,258.22 374.25,258.22 374.50,258.23 374.75,258.23 375.00,259.66 375.25,263.23 375.50,266.80 375.75,270.36 376.00,272.50 376.25,272.50 376.50,272.50 376.75,268.94 377.00,265.38 377.25,261.83 377.50,258.28 377.75,258.28 378.00,258.28 378.25,258.29 378.50,258.29 378.75,258.30 379.00,258.30 379.25,258.31 379.50,258.31 379.75,258.31 380.00,258.32 380.25,258.29 380.50,258.25 380.75,258.22 381.00,258.19 381.25,258.16 381.50,258.12 381.75,258.09 382.00,258.78 382.25,260.57 382.50,262.38 382.75,264.20 383.00,265.30 383.25,265.30 383.50,265.30 383.75,263.44 384.00,261.55 384.25,259.65 384.50,257.74 384.75,257.71 385.00,257.67 385.25,257.64 385.50,257.61 385.75,257.58 386.00,257.54 386.25,257.51 386.50,257.48 386.75,257.45 387.00,257.42 387.25,257.38 387.50,257.35 387.75,257.32 388.00,257.29 388.25,257.31 388.50,257.34 388.75,257.36 389.00,257.38 389.25,257.41 389.50,257.43 389.75,257.46 390.00,257.48 390.25,257.51 390.50,257.53 390.75,257.56 391.00,257.58 391.25,257.60 391.50,257.63 391.75,257.65 392.00,257.68 392.25,257.70 392.50,257.73 392.75,257.75 393.00,257.78 393.25,257.80 393.50,257.82 393.75,257.85 394.00,257.87 394.25,257.90 394.50,257.92 394.75,257.95 395.00,257.97 395.25,258.00 395.50,258.02 395.75,258.05 396.00,258.07 396.25,258.07 396.50,258.07 396.75,258.59 397.00,261.19 397.25,263.80 397.50,266.40 397.75,268.48 398.00,268.48 398.25,268.48 398.50,266.40 398.75,263.80 399.00,261.19 399.25,258.59 399.50,258.07 399.75,258.07 400.30,257.00 401.20,245.00 402.50,240.00 404.70,239.50 406.20,240.00 406.90,250.00 407.50,262.00 408.70,275.00 409.40,280.00 410.60,272.00 411.20,258.00 412.00,257.00 412.50,257.00 415.00,255.00 416.00,245.00 417.40,238.20 419.30,238.20 420.50,245.00 421.20,257.00 422.40,275.00 424.00,282.00 425.00,270.00 425.50,250.00 426.00,236.00 427.40,231.00 429.00,235.00 429.90,259.00 431.10,260.00 432.40,259.40 433.60,262.00 435.00,268.00 436.10,277.00 437.40,270.00 438.00,250.00 438.40,246.00 438.90,240.00 441.50,240.00 444.40,240.00 444.80,246.00 445.90,258.00 447.70,282.60 449.00,270.00 450.00,258.00 451.00,247.00 451.60,240.00 453.30,240.00 454.50,240.00 455.80,240.00 457.50,240.00 457.90,246.00 458.60,258.00 459.60,270.00 461.40,287.50 462.50,285.00 463.20,262.00 463.50,246.00 463.70,240.00 464.30,235.00 464.90,223.60 466.00,223.60 466.60,223.60 467.30,235.00 468.10,240.00 468.50,246.00 469.40,280.00 470.70,285.00 471.80,262.00 473.10,246.00 473.60,240.00 476.50,240.00 480.40,240.00 480.80,246.00 482.00,262.00 484.00,281.80 485.50,268.00 486.30,246.00 486.80,240.00 489.50,240.00 492.60,240.00 493.00,246.00 494.00,259.00 495.40,260.00 497.00,259.00 498.50,260.00 500.00,261.00 500.80,255.00 501.60,246.00 502.20,240.00 506.70,240.00 507.10,246.00 508.00,270.00 509.40,283.50 510.50,270.00 511.40,246.00 511.90,240.00 515.70,240.00 516.20,250.00 516.60,255.70 519.00,256.00 519.80,262.00 521.20,276.60 522.40,270.00 523.00,265.00 523.00,285.00 522.40,292.00 521.20,297.50 519.80,292.00 519.00,280.00 516.60,277.00 516.20,276.60 515.70,276.60 511.90,282.00 511.40,292.00 510.50,302.00 509.40,305.30 508.00,303.00 507.10,292.00 506.70,282.00 502.20,278.30 501.60,280.00 500.80,285.00 500.00,292.00 498.50,294.00 497.00,297.00 495.40,299.20 494.00,297.00 493.00,290.00 492.60,284.00 489.50,274.80 486.80,282.00 486.30,292.00 485.50,302.00 484.00,304.50 482.00,300.00 480.80,288.00 480.40,278.00 476.50,272.00 473.60,285.00 473.10,296.00 471.80,318.00 470.70,332.00 469.40,333.60 468.50,322.00 468.10,315.00 467.30,305.00 466.60,294.00 466.00,292.60 464.90,298.00 464.30,305.00 463.70,312.00 463.50,318.00 463.20,325.00 462.50,332.00 461.40,332.70 459.60,320.00 458.60,305.00 457.90,295.00 457.50,285.00 455.80,262.00 454.50,257.70 453.30,262.00 451.60,280.00 451.00,290.00 450.00,298.00 449.00,302.00 447.70,303.60 445.90,298.00 444.80,285.00 444.40,275.00 441.50,268.00 438.90,278.00 438.40,287.00 438.00,292.00 437.40,297.00 436.10,298.60 435.00,296.00 433.60,290.00 432.40,292.00 431.10,294.00 429.90,285.00 429.00,272.00 427.40,272.00 426.00,280.00 425.50,290.00 425.00,298.00 424.00,305.00 422.40,307.00 421.20,298.00 420.50,285.00 419.30,272.00 417.40,270.00 416.00,270.00 415.00,271.00 412.50,272.00 412.00,280.00 411.20,290.00 410.60,298.00 409.40,300.50 408.70,300.00 407.50,296.00 406.90,290.00 406.20,282.00 404.70,275.00 402.50,275.00 401.20,276.00 400.30,280.00 399.75,275.60 399.50,287.37 399.25,291.86 399.00,295.21 398.75,296.76 398.50,297.00 398.25,297.00 398.00,297.00 397.75,297.00 397.50,297.00 397.25,297.00 397.00,297.00 396.75,297.00 396.50,297.00 396.25,297.00 396.00,297.00 395.75,296.97 395.50,296.01 395.25,293.47 395.00,288.44 394.75,275.60 394.50,275.60 394.25,275.60 394.00,275.60 393.75,275.60 393.50,275.60 393.25,275.60 393.00,275.60 392.75,275.60 392.50,275.60 392.25,275.60 392.00,275.60 391.75,275.60 391.50,275.60 391.25,275.60 391.00,275.60 390.75,275.60 390.50,275.60 390.25,275.60 390.00,275.60 389.75,275.60 389.50,275.60 389.25,275.60 389.00,275.60 388.75,275.60 388.50,275.60 388.25,275.60 388.00,275.60 387.75,275.60 387.50,275.60 387.25,275.60 387.00,275.60 386.75,275.60 386.50,275.60 386.25,275.60 386.00,275.60 385.75,275.60 385.50,275.60 385.25,275.60 385.00,275.60 384.75,285.94 384.50,289.03 384.25,292.39 384.00,294.02 383.75,294.40 383.50,294.40 383.25,294.40 383.00,294.40 382.75,294.40 382.50,294.40 382.25,294.40 382.00,294.40 381.75,294.19 381.50,292.83 381.25,289.89 381.00,285.94 380.75,275.60 380.50,275.60 380.25,275.60 380.00,275.60 379.75,275.60 379.50,275.60 379.25,275.60 379.00,275.60 378.75,275.60 378.50,275.60 378.25,275.60 378.00,275.60 377.75,285.44 377.50,288.38 377.25,291.59 377.00,293.14 376.75,293.50 376.50,293.50 376.25,293.50 376.00,293.50 375.75,293.50 375.50,293.50 375.25,293.50 375.00,293.50 374.75,292.93 374.50,291.10 374.25,287.44 374.00,285.44 373.75,275.60 373.50,275.60 373.25,275.60 373.00,275.60 372.75,275.60 372.50,275.60 372.25,275.60 372.00,275.60 371.75,275.60 371.50,275.60 371.25,275.60 371.00,275.60 370.75,275.60 370.50,275.60 370.25,275.60 370.00,286.82 369.75,289.09 369.50,293.27 369.25,295.35 369.00,296.00 368.75,296.00 368.50,296.00 368.25,296.00 368.00,296.00 367.75,296.00 367.50,296.00 367.25,296.00 367.00,295.90 366.75,294.71 366.50,291.92 366.25,286.82 366.00,275.60 365.75,275.60 365.50,275.60 365.25,275.60 365.00,275.60 364.75,275.60 364.50,275.60 364.25,275.60 364.00,275.60 363.75,275.60 363.50,275.60 363.25,275.60 363.00,275.60 362.75,275.60 362.50,275.60 362.25,275.60 362.00,275.60 361.75,275.60 361.50,275.60 361.25,275.60 361.00,285.80 360.75,289.80 360.50,291.82 360.25,292.58 360.00,292.60 359.75,292.60 359.50,292.60 359.25,292.60 359.00,292.60 358.75,292.60 358.50,292.60 358.25,292.60 358.00,292.60 357.75,292.60 357.50,292.60 357.25,292.60 357.00,292.60 356.75,292.60 356.50,292.60 356.25,292.58 356.00,291.82 355.75,289.80 355.50,285.80 355.25,275.60 355.00,275.60 354.75,275.60 354.50,275.60 354.25,275.60 354.00,275.60 353.75,275.60 353.50,275.60 353.25,275.60 353.00,275.60 352.75,275.60 352.50,275.60 352.25,275.60 352.00,275.60 351.75,275.60 351.50,275.60 351.25,275.60 351.00,275.60 350.75,275.60 350.50,275.60 350.25,275.60 350.00,275.60 349.75,275.60 349.50,275.60 349.25,275.60 349.00,285.94 348.75,288.04 348.50,291.88 348.25,293.80 348.00,294.40 347.75,294.40 347.50,294.40 347.25,294.40 347.00,294.40 346.75,294.40 346.50,294.40 346.25,294.40 346.00,294.40 345.75,294.40 345.50,294.40 345.25,294.40 345.00,294.02 344.75,292.39 344.50,289.03 344.25,285.94 344.00,275.60 343.75,275.60 343.50,275.60 343.25,275.60 343.00,275.60 342.75,275.60 342.50,275.60 342.25,275.60 342.00,275.60 341.75,275.60 341.50,275.60 341.25,275.60 341.00,275.60 340.75,275.60 340.50,275.60 340.25,275.60 340.00,275.60 339.75,275.60 339.50,275.60 339.25,275.60 339.00,275.60 338.75,275.60 338.50,275.60 338.25,275.60 338.00,275.60 337.75,275.60 337.50,286.88 337.25,291.30 337.00,293.53 336.75,294.38 336.50,294.40 336.25,294.40 336.00,294.40 335.75,294.40 335.50,294.40 335.25,294.40 335.00,294.40 334.75,294.38 334.50,293.53 334.25,291.30 334.00,286.88 333.75,275.60 333.50,275.60 333.25,275.60 333.00,275.60 332.75,275.60 332.50,275.60 332.25,275.60 332.00,275.60 331.75,275.60 331.50,275.60 331.25,275.60 331.00,275.60 330.75,275.60 330.50,287.84 330.25,292.64 330.00,295.06 329.75,295.97 329.50,296.00 329.25,296.00 329.00,296.00 328.75,296.00 328.50,296.00 328.25,296.00 328.00,296.00 327.75,296.00 327.50,296.00 327.25,296.00 327.00,296.00 326.75,295.77 326.50,294.30 326.25,291.10 326.00,286.82 325.75,275.60 325.50,275.60 325.25,275.60 325.00,275.60 324.75,275.60 324.50,275.60 324.25,275.60 324.00,275.60 323.75,275.60 323.50,275.60 323.25,275.60 323.00,275.60 322.75,275.60 322.50,275.60 322.25,275.60 322.00,275.60 321.75,275.60 321.50,275.60 321.25,275.60 321.00,275.60 320.75,275.60 320.50,275.60 320.25,275.60 320.00,275.60 319.75,275.60 319.50,275.60 319.25,275.60 319.00,275.60 318.75,275.60 318.50,275.60 318.25,275.60 318.00,275.60 317.75,275.60 317.50,285.94 317.25,289.89 317.00,292.83 316.75,294.19 316.50,294.40 316.25,294.40 316.00,294.40 315.75,294.40 315.50,294.40 315.25,294.40 315.00,294.40 314.75,294.40 314.50,294.40 314.25,294.40 314.00,294.40 313.75,294.40 313.50,294.40 313.25,294.40 313.00,294.40 312.75,293.80 312.50,291.88 312.25,288.04 312.00,285.94 311.75,275.60 311.50,275.60 311.25,275.60 311.00,275.60 310.75,275.60 310.50,275.60 310.25,275.60 310.00,275.60 309.75,275.60 309.50,275.60 309.25,275.60 309.00,275.60 308.75,275.60 308.50,275.60 308.25,275.60 308.00,275.60 307.75,275.60 307.50,275.60 307.25,275.60 307.00,275.60 306.75,275.60 306.50,275.60 306.25,275.60 306.00,275.60 305.75,275.60 305.50,275.60 305.25,275.60 305.00,275.60 304.75,275.60 304.50,275.60 304.25,275.60 304.00,275.60 303.75,275.60 303.50,275.60 303.25,275.60 303.00,285.44 302.75,287.44 302.50,291.10 302.25,292.93 302.00,293.50 301.75,293.50 301.50,293.50 301.25,293.50 301.00,293.50 300.75,293.50 300.50,293.50 300.25,293.50 300.00,293.50 299.75,293.48 299.50,292.68 299.25,290.55 299.00,286.34 298.75,275.60 298.50,275.60 298.25,275.60 298.00,275.60 297.75,275.60 297.50,275.60 297.25,275.60 297.00,275.60 296.75,275.60 296.50,275.60 296.25,275.60 296.00,275.60 295.75,275.60 295.50,275.60 295.25,275.60 295.00,275.60 294.75,275.60 294.50,275.60 294.25,275.60 294.00,275.60 293.75,275.60 293.50,275.60 293.25,275.60 293.00,275.60 292.75,275.60 292.50,275.60 292.25,275.60 292.00,275.60 291.75,275.60 291.50,275.60 291.25,275.60 291.00,275.60 290.75,275.60 290.50,285.44 290.25,287.44 290.00,291.10 289.75,292.93 289.50,293.50 289.25,293.50 289.00,293.50 288.75,293.50 288.50,293.50 288.25,293.50 288.00,293.50 287.75,293.50 287.50,293.50 287.25,293.50 287.00,293.50 286.75,293.50 286.50,293.14 286.25,291.59 286.00,288.38 285.75,285.44 285.50,275.60 285.25,275.60 285.00,275.60 284.75,275.60 284.50,275.60 284.25,275.60 284.00,275.60 283.75,275.60 283.50,275.60 283.25,275.60 283.00,275.60 282.75,275.60 282.50,275.60 282.25,275.60 282.00,275.60 281.75,275.60 281.50,275.60 281.25,275.60 281.00,275.60 280.75,275.60 280.50,275.60 280.25,275.60 280.00,284.01 279.75,285.72 279.50,288.85 279.25,290.41 279.00,290.90 278.75,290.90 278.50,290.90 278.25,290.90 278.00,290.90 277.75,290.41 277.50,288.85 277.25,285.72 277.00,284.01 276.75,275.60 276.50,275.60 276.25,275.60 276.00,275.60 275.75,275.60 275.50,285.26 275.25,289.05 275.00,290.96 274.75,291.68 274.50,291.70 274.25,291.70 274.00,291.70 273.75,291.70 273.50,291.70 273.25,291.70 273.00,291.70 272.75,291.70 272.50,291.70 272.25,291.70 272.00,291.70 271.75,291.52 271.50,290.36 271.25,287.83 271.00,284.45 270.75,275.60 270.50,275.60 270.25,275.60 270.00,275.60 269.75,275.60 269.50,275.60 269.25,275.60 269.00,275.60 268.75,275.60 268.50,275.60 268.25,275.60 268.00,275.60 267.75,275.60 267.50,275.60 267.25,275.60 267.00,275.60 266.75,275.60 266.50,275.60 266.25,275.60 266.00,275.60 265.75,275.60 265.50,275.60 265.25,275.60 265.00,275.60 264.75,275.60 264.50,275.60 264.25,284.95 264.00,289.20 263.75,291.52 263.50,292.51 263.25,292.60 263.00,292.60 262.75,292.60 262.50,292.60 262.25,292.60 262.00,292.60 261.75,292.60 261.50,292.60 261.25,292.06 261.00,290.32 260.75,286.84 260.50,284.95 260.25,275.60 260.00,275.60 259.75,275.60 259.50,275.60 259.25,275.60 259.00,275.60 258.75,275.60 258.50,275.60 258.25,275.60 258.00,275.60 257.75,275.60 257.50,275.60 257.25,275.60 257.00,275.60 256.75,275.60 256.50,275.60 256.25,275.60 256.00,275.60 255.75,275.60 255.50,275.60 255.25,275.60 255.00,275.60 254.75,275.60 254.50,275.60 254.25,275.60 254.00,275.60 253.75,275.60 253.50,275.60 253.25,275.60 253.00,275.60 252.75,275.60 252.50,275.60 252.25,275.60 252.00,275.60 251.75,275.60 251.50,275.60 251.25,275.60 251.00,275.60 250.75,275.60 250.50,275.60 250.25,275.60 250.00,275.60 249.75,285.44 249.50,288.38 249.25,291.59 249.00,293.14 248.75,293.50 248.50,293.50 248.25,293.50 248.00,293.50 247.75,293.50 247.50,293.50 247.25,293.50 247.00,293.50 246.75,293.50 246.50,293.50 246.25,293.50 246.00,293.50 245.75,293.50 245.50,293.14 245.25,291.59 245.00,288.38 244.75,285.44 244.50,275.60 244.25,275.60 244.00,275.60 243.75,275.60 243.50,275.60 243.25,275.60 243.00,275.60 242.75,275.60 242.50,278.24 242.25,278.77 242.00,279.76 241.75,280.25 241.50,280.40 241.25,280.40 241.00,280.40 240.75,280.40 240.50,280.40 240.25,280.40 240.00,280.40 239.75,280.40 239.50,280.38 239.25,280.10 239.00,279.44 238.75,278.24 238.50,275.60 238.25,275.60 238.00,275.60 237.75,275.60 237.50,275.60 237.25,275.60 237.00,275.60 236.75,275.60 236.50,275.60 236.25,275.60 236.00,275.60 235.75,275.60 235.50,275.60 235.25,275.60 235.00,275.60 234.75,275.60 234.50,285.44 234.25,289.20 234.00,292.01 233.75,293.30 233.50,293.50 233.25,293.50 233.00,293.50 232.75,293.50 232.50,293.50 232.25,293.50 232.00,293.50 231.75,293.50 231.50,293.50 231.25,293.50 231.00,293.50 230.75,293.48 230.50,292.68 230.25,290.55 230.00,286.34 229.75,275.60 229.50,275.60 229.25,275.60 229.00,275.60 228.75,275.60 228.50,275.60 228.25,275.60 228.00,275.60 227.75,275.60 227.50,275.60 227.25,275.60 227.00,275.60 226.75,275.60 226.50,275.60 226.25,275.60 226.00,275.60 225.75,275.60 225.50,275.60 225.25,275.60 225.00,275.60 224.75,275.60 224.50,275.60 224.25,275.60 224.00,275.60 223.75,275.60 223.50,275.60 223.25,275.60 223.00,275.60 222.75,275.60 222.50,275.60 222.25,285.94 222.00,290.64 221.75,293.21 221.50,294.31 221.25,294.40 221.00,294.40 220.75,294.40 220.50,294.40 220.25,294.40 220.00,294.40 219.75,294.40 219.50,294.40 219.25,294.40 219.00,294.40 218.75,294.40 218.50,294.02 218.25,292.39 218.00,289.03 217.75,285.94 217.50,275.60 217.25,275.60 217.00,275.60 216.75,275.60 216.50,275.60 216.25,275.60 216.00,275.60 215.75,275.60 215.50,275.60 215.25,275.60 215.00,275.60 214.75,275.60 214.50,275.60 214.25,275.60 214.00,275.60 213.75,275.60 213.50,275.60 213.25,275.60 213.00,275.60 212.75,275.60 212.50,275.60 212.25,275.60 212.00,275.60 211.75,275.60 211.50,275.60 211.25,275.60 211.00,275.60 210.75,275.60 210.50,275.60 210.25,275.60 210.00,275.60 209.75,275.60 209.50,275.60 209.25,286.82 209.00,291.92 208.75,294.71 208.50,295.90 208.25,296.00 208.00,296.00 207.75,296.00 207.50,296.00 207.25,296.00 207.00,296.00 206.75,296.00 206.50,296.00 206.25,295.35 206.00,293.27 205.75,289.09 205.50,286.82 205.25,275.60 205.00,275.60 204.75,275.60 204.50,275.60 204.25,275.60 204.00,275.60 203.75,275.60 203.50,275.60 203.25,275.60 203.00,275.60 202.75,275.60 202.50,275.60 202.25,275.60 202.00,275.60 201.75,275.60 201.50,285.94 201.25,288.04 201.00,291.88 200.75,293.80 200.50,294.40 200.25,294.40 200.00,294.40 199.75,294.40 199.50,294.40 199.25,294.40 199.00,294.40 198.75,294.40 198.50,294.40 198.25,294.40 198.00,294.40 197.75,294.38 197.50,293.53 197.25,291.30 197.00,286.88 196.75,275.60 196.50,275.60 196.25,275.60 196.00,275.60 195.75,275.60 195.50,275.60 195.25,275.60 195.00,275.60 194.75,275.60 194.50,275.60 194.25,275.60 194.00,275.60 193.75,275.60 193.50,275.60 193.25,275.60 193.00,275.60 192.75,275.60 192.50,275.60 192.25,275.60 192.00,275.60 191.75,275.60 191.50,275.60 191.25,275.60 191.00,275.60 190.75,285.94 190.50,290.64 190.25,293.21 190.00,294.31 189.75,294.40 189.50,294.40 189.25,294.40 189.00,294.40 188.75,294.40 188.50,294.40 188.25,294.40 188.00,294.40 187.75,294.40 187.50,294.40 187.25,294.40 187.00,294.40 186.75,294.40 186.50,294.40 186.25,294.38 186.00,293.53 185.75,291.30 185.50,286.88 185.25,275.60 185.00,275.60 184.75,275.60 184.50,275.60 184.25,275.60 184.00,275.60 183.75,275.60 183.50,275.60 183.25,275.60 183.00,275.60 182.75,275.60 182.50,275.60 182.25,275.60 182.00,275.60 181.75,275.60 181.50,275.60 181.25,275.60 181.00,275.60 180.75,275.60 180.50,275.60 180.25,275.60 180.00,275.60 179.75,275.60 179.50,275.60 179.25,275.60 179.00,275.60 178.75,284.95 178.50,287.74 178.25,290.78 178.00,292.26 177.75,292.60 177.50,292.60 177.25,292.60 177.00,292.60 176.75,292.60 176.50,292.60 176.25,292.60 176.00,292.60 175.75,292.58 175.50,291.82 175.25,289.80 175.00,285.80 174.75,275.60 174.50,275.60 174.25,275.60 174.00,275.60 173.75,275.60 173.50,275.60 173.25,275.60 173.00,275.60 172.75,275.60 172.50,275.60 172.25,275.60 172.00,275.60 171.75,275.60 171.50,275.60 171.25,275.60 171.00,275.60 170.75,275.60 170.50,275.60 170.25,275.60 170.00,275.60 169.75,275.60 169.50,275.60 169.25,275.60 169.00,286.88 168.75,291.30 168.50,293.53 168.25,294.38 168.00,294.40 167.75,294.40 167.50,294.40 167.25,294.40 167.00,294.40 166.75,294.40 166.50,294.40 166.25,294.38 166.00,293.53 165.75,291.30 165.50,286.88 165.25,275.60 165.00,275.60 164.75,275.60 164.50,275.60 164.25,275.60 164.00,275.60 163.75,275.60 163.50,275.60 163.25,275.60 163.00,275.60 162.75,275.60 162.50,275.60 162.25,275.60 162.00,275.60 161.75,275.60 161.50,275.60 161.25,284.95 161.00,287.74 160.75,290.78 160.50,292.26 160.25,292.60 160.00,292.60 159.75,292.60 159.50,292.60 159.25,292.60 159.00,292.60 158.75,292.60 158.50,292.60 158.25,292.41 158.00,291.18 157.75,288.52 157.50,284.95 157.25,275.60 157.00,275.60 156.75,275.60 156.50,275.60 156.25,275.60 156.00,275.60 155.75,275.60 155.50,275.60 155.25,275.60 155.00,275.60 154.75,275.60 154.50,275.60 154.25,285.44 154.00,289.92 153.75,292.37 153.50,293.41 153.25,293.50 153.00,293.50 152.75,293.50 152.50,293.50 152.25,293.50 152.00,293.50 151.75,293.50 151.50,293.50 151.25,292.93 151.00,291.10 150.75,287.44 150.50,285.44 150.25,275.60 150.00,275.60 149.75,275.60 149.50,275.60 149.25,275.60 149.00,275.60 148.75,275.60 148.50,275.60 148.25,275.60 148.00,275.60 147.75,275.60 147.50,275.60 147.25,275.60 147.00,275.60 146.75,275.60 146.50,275.60 146.25,275.60 146.00,275.60 145.75,275.60 145.50,275.60 145.25,275.60 145.00,275.60 144.75,275.60 144.50,275.60 144.25,275.60 144.00,275.60 143.75,275.60 143.50,275.60 143.25,275.60 143.00,275.60 142.75,275.60 142.40,276.00 142.00,285.00 141.00,295.00 140.00,296.00 139.00,296.00 137.50,294.00 136.00,290.00 135.00,282.00 134.30,279.00 133.60,278.00 132.80,277.00 130.00,277.00 129.40,280.00 128.80,288.00 128.00,294.00 127.00,298.50 126.00,299.50 125.00,299.00 123.50,296.00 122.50,290.00 121.00,278.00 120.00,273.00 119.40,272.40 118.50,272.40 116.00,275.00 115.20,288.00 114.50,298.00 113.60,303.50 112.70,305.20 111.50,303.00 110.50,298.00 109.70,290.00 109.00,281.00 107.50,280.00 106.00,281.00 105.60,285.00 105.20,292.00 103.50,294.00 101.00,297.00 98.00,296.00 97.20,290.00 96.50,272.00 95.80,258.00 94.90,256.00 92.60,258.00 92.00,270.00 91.20,282.00 90.40,290.00 89.60,297.00 88.60,302.00 87.40,304.70 85.80,299.00 84.60,293.00 83.80,285.00 83.50,268.00 83.00,256.00 80.70,256.00 79.60,258.00 79.00,268.00 78.50,276.00 78.10,280.00 77.30,290.00 76.20,298.00 75.80,302.00 75.00,310.00 74.10,319.60 73.20,330.00 72.40,342.00 71.50,343.50 70.60,342.00 70.40,282.00" fill="#ff0000" stroke="#ff0000" stroke-width="0.6" stroke-linejoin="round"/>
<rect x="436.3" y="228.6" width="80" height="16" fill="#fff" stroke="#8a8a8a" stroke-width="0.9"/>
<rect x="439" y="235.3" width="21.3" height="2.3" fill="#ff0000"/>
<text x="463.9" y="239.4" font-size="9.1" font-family="Liberation Sans, Arial, sans-serif" fill="#222">Error Signal</text>
<text transform="translate(65.3,220.9) scale(1,1)" text-anchor="end" font-size="9.9" font-family="Liberation Sans, Arial, sans-serif" fill="#3a3a3a">150</text>
<text transform="translate(65.7,245.7) scale(1,1)" text-anchor="end" font-size="9.9" font-family="Liberation Sans, Arial, sans-serif" fill="#3a3a3a">100</text>
<text transform="translate(65.7,270.4) scale(1,1)" text-anchor="end" font-size="9.9" font-family="Liberation Sans, Arial, sans-serif" fill="#3a3a3a">50</text>
<text transform="translate(65.7,295.3) scale(1,1)" text-anchor="end" font-size="9.9" font-family="Liberation Sans, Arial, sans-serif" fill="#3a3a3a">0</text>
<text transform="translate(65.5,319.9) scale(1,1)" text-anchor="end" font-size="9.9" font-family="Liberation Sans, Arial, sans-serif" fill="#3a3a3a">-50</text>
<text transform="translate(65.5,344.5) scale(1,1)" text-anchor="end" font-size="9.9" font-family="Liberation Sans, Arial, sans-serif" fill="#3a3a3a">-100</text>
<text transform="translate(65.3,368.8) scale(1,1)" text-anchor="end" font-size="9.9" font-family="Liberation Sans, Arial, sans-serif" fill="#3a3a3a">-150</text>
<text transform="translate(74.2,378.7) scale(1.04,0.97)" text-anchor="middle" font-size="9.9" font-family="Liberation Sans, Arial, sans-serif" font-weight="bold">0</text><text transform="translate(145.1,378.7) scale(1.04,0.97)" text-anchor="middle" font-size="9.9" font-family="Liberation Sans, Arial, sans-serif" font-weight="bold">50,000</text><text transform="translate(226.8,378.7) scale(1.04,0.97)" text-anchor="middle" font-size="9.9" font-family="Liberation Sans, Arial, sans-serif" font-weight="bold">100,000</text><text transform="translate(303.4,378.7) scale(1.04,0.97)" text-anchor="middle" font-size="9.9" font-family="Liberation Sans, Arial, sans-serif" font-weight="bold">150,000</text><text transform="translate(382.2,378.7) scale(1.04,0.97)" text-anchor="middle" font-size="9.9" font-family="Liberation Sans, Arial, sans-serif" font-weight="bold">200,000</text><text transform="translate(456.4,378.7) scale(1.04,0.97)" text-anchor="middle" font-size="9.9" font-family="Liberation Sans, Arial, sans-serif" font-weight="bold">250,000</text><text transform="translate(525.2,378.7) scale(1.04,0.97)" text-anchor="middle" font-size="9.9" font-family="Liberation Sans, Arial, sans-serif" font-weight="bold">300,000</text>
<text x="310.7" y="395.3" text-anchor="middle" font-size="12.5" font-family="Liberation Sans, Arial, sans-serif" font-weight="bold">Time (ns)</text>
<text transform="translate(32.8,288.8) rotate(-90)" text-anchor="middle" font-size="12.95" font-family="Liberation Sans, Arial, sans-serif" font-weight="bold">Amplitude</text>
</svg>
</body></html>
